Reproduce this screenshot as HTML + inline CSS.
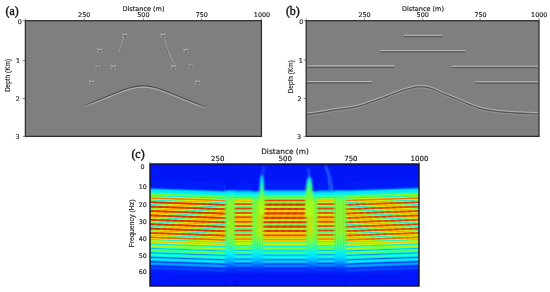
<!DOCTYPE html>
<html><head><meta charset="utf-8"><style>
html,body{margin:0;padding:0;background:#fff;width:550px;height:292px;overflow:hidden}
svg{position:absolute;left:0;top:0;display:block}
.t{font-family:"DejaVu Sans","Liberation Sans",sans-serif;fill:#262626;stroke:#262626;stroke-width:0.18px}
.l{font-family:"Liberation Sans","DejaVu Sans",sans-serif;fill:#262626;stroke:#262626;stroke-width:0.15px}
.s{font-family:"Liberation Serif",serif;fill:#161616;stroke:#161616;stroke-width:0.42px}
</style></head><body>
<svg width="550" height="292" viewBox="0 0 550 292">
<defs><linearGradient id="sg0" gradientUnits="userSpaceOnUse" x1="190.00" y1="160.60" x2="185.50" y2="289.24"><stop offset="0.0000" stop-color="#0612f8"/><stop offset="0.0333" stop-color="#0612f8"/><stop offset="0.0359" stop-color="#0613f8"/><stop offset="0.0512" stop-color="#0613f8"/><stop offset="0.0538" stop-color="#0614f8"/><stop offset="0.0692" stop-color="#0614f8"/><stop offset="0.0717" stop-color="#0615f8"/><stop offset="0.0794" stop-color="#0615f8"/><stop offset="0.0820" stop-color="#0615f9"/><stop offset="0.0871" stop-color="#0615f9"/><stop offset="0.0897" stop-color="#0516f9"/><stop offset="0.1050" stop-color="#0516f9"/><stop offset="0.1076" stop-color="#0517f9"/><stop offset="0.1230" stop-color="#0517f9"/><stop offset="0.1255" stop-color="#0518f9"/><stop offset="0.1409" stop-color="#0518f9"/><stop offset="0.1435" stop-color="#0519f9"/><stop offset="0.1589" stop-color="#0519f9"/><stop offset="0.1614" stop-color="#051af9"/><stop offset="0.1768" stop-color="#051af9"/><stop offset="0.1793" stop-color="#051bf9"/><stop offset="0.1845" stop-color="#051bf9"/><stop offset="0.1870" stop-color="#051bfa"/><stop offset="0.1947" stop-color="#051bfa"/><stop offset="0.1973" stop-color="#051cfa"/><stop offset="0.2127" stop-color="#051cfa"/><stop offset="0.2152" stop-color="#0325fb"/><stop offset="0.2178" stop-color="#022dfd"/><stop offset="0.2203" stop-color="#0136fe"/><stop offset="0.2229" stop-color="#0040ff"/><stop offset="0.2255" stop-color="#0058ff"/><stop offset="0.2280" stop-color="#0079ff"/><stop offset="0.2306" stop-color="#009bff"/><stop offset="0.2332" stop-color="#00bcff"/><stop offset="0.2357" stop-color="#00ccff"/><stop offset="0.2383" stop-color="#00dcff"/><stop offset="0.2408" stop-color="#00e6fe"/><stop offset="0.2434" stop-color="#02e7fb"/><stop offset="0.2460" stop-color="#03e9f8"/><stop offset="0.2485" stop-color="#04eaf5"/><stop offset="0.2511" stop-color="#06ebf3"/><stop offset="0.2536" stop-color="#09eeeb"/><stop offset="0.2562" stop-color="#0ef1e1"/><stop offset="0.2588" stop-color="#15f8d1"/><stop offset="0.2613" stop-color="#1fffbc"/><stop offset="0.2639" stop-color="#3bff8f"/><stop offset="0.2665" stop-color="#56ff63"/><stop offset="0.2690" stop-color="#6aff42"/><stop offset="0.2716" stop-color="#75ff38"/><stop offset="0.2741" stop-color="#70ff3b"/><stop offset="0.2767" stop-color="#57ff61"/><stop offset="0.2793" stop-color="#2effa3"/><stop offset="0.2818" stop-color="#10f3dc"/><stop offset="0.2844" stop-color="#19fbc9"/><stop offset="0.2870" stop-color="#53ff68"/><stop offset="0.2895" stop-color="#9efc1c"/><stop offset="0.2921" stop-color="#dce800"/><stop offset="0.2946" stop-color="#ffc000"/><stop offset="0.2972" stop-color="#ff8e00"/><stop offset="0.2998" stop-color="#ff7200"/><stop offset="0.3023" stop-color="#ff7000"/><stop offset="0.3049" stop-color="#ff8800"/><stop offset="0.3075" stop-color="#ffbc00"/><stop offset="0.3100" stop-color="#d7ed00"/><stop offset="0.3126" stop-color="#7cfe33"/><stop offset="0.3151" stop-color="#19fbc8"/><stop offset="0.3177" stop-color="#0ef1e1"/><stop offset="0.3203" stop-color="#66ff48"/><stop offset="0.3228" stop-color="#d9eb00"/><stop offset="0.3254" stop-color="#ff9800"/><stop offset="0.3280" stop-color="#f84f00"/><stop offset="0.3305" stop-color="#ee2700"/><stop offset="0.3331" stop-color="#eb1900"/><stop offset="0.3356" stop-color="#eb1900"/><stop offset="0.3382" stop-color="#ef2c00"/><stop offset="0.3408" stop-color="#fa5900"/><stop offset="0.3433" stop-color="#ffab00"/><stop offset="0.3459" stop-color="#ccf700"/><stop offset="0.3484" stop-color="#52ff6a"/><stop offset="0.3510" stop-color="#07ecef"/><stop offset="0.3536" stop-color="#59ff5e"/><stop offset="0.3561" stop-color="#d0f300"/><stop offset="0.3587" stop-color="#ffa500"/><stop offset="0.3613" stop-color="#f95500"/><stop offset="0.3638" stop-color="#ef2900"/><stop offset="0.3664" stop-color="#eb1900"/><stop offset="0.3689" stop-color="#eb1900"/><stop offset="0.3715" stop-color="#ed2100"/><stop offset="0.3741" stop-color="#f64800"/><stop offset="0.3766" stop-color="#ff8a00"/><stop offset="0.3792" stop-color="#e4e100"/><stop offset="0.3818" stop-color="#7afe34"/><stop offset="0.3843" stop-color="#14f6d4"/><stop offset="0.3869" stop-color="#32ff9e"/><stop offset="0.3894" stop-color="#acfc13"/><stop offset="0.3920" stop-color="#ffc800"/><stop offset="0.3946" stop-color="#fe6800"/><stop offset="0.3971" stop-color="#f23600"/><stop offset="0.3997" stop-color="#eb1900"/><stop offset="0.4048" stop-color="#eb1900"/><stop offset="0.4074" stop-color="#f23800"/><stop offset="0.4099" stop-color="#fe6c00"/><stop offset="0.4125" stop-color="#fbcc00"/><stop offset="0.4151" stop-color="#a5fc18"/><stop offset="0.4176" stop-color="#2affaa"/><stop offset="0.4202" stop-color="#16f9ce"/><stop offset="0.4227" stop-color="#82fe2f"/><stop offset="0.4253" stop-color="#e8dd00"/><stop offset="0.4279" stop-color="#ff8400"/><stop offset="0.4304" stop-color="#f54500"/><stop offset="0.4330" stop-color="#ec1f00"/><stop offset="0.4356" stop-color="#eb1900"/><stop offset="0.4381" stop-color="#eb1900"/><stop offset="0.4407" stop-color="#ef2c00"/><stop offset="0.4432" stop-color="#fa5900"/><stop offset="0.4458" stop-color="#ffab00"/><stop offset="0.4484" stop-color="#ccf700"/><stop offset="0.4509" stop-color="#52ff6a"/><stop offset="0.4535" stop-color="#07ecef"/><stop offset="0.4561" stop-color="#59ff5e"/><stop offset="0.4586" stop-color="#d0f300"/><stop offset="0.4612" stop-color="#ffa500"/><stop offset="0.4637" stop-color="#f95500"/><stop offset="0.4663" stop-color="#ef2900"/><stop offset="0.4689" stop-color="#eb1900"/><stop offset="0.4714" stop-color="#eb1900"/><stop offset="0.4740" stop-color="#ed2100"/><stop offset="0.4766" stop-color="#f64800"/><stop offset="0.4791" stop-color="#ff8a00"/><stop offset="0.4817" stop-color="#e4e100"/><stop offset="0.4842" stop-color="#7afe34"/><stop offset="0.4868" stop-color="#14f6d4"/><stop offset="0.4894" stop-color="#32ff9e"/><stop offset="0.4919" stop-color="#acfc13"/><stop offset="0.4945" stop-color="#ffc800"/><stop offset="0.4970" stop-color="#fe6800"/><stop offset="0.4996" stop-color="#f23600"/><stop offset="0.5022" stop-color="#eb1900"/><stop offset="0.5073" stop-color="#eb1900"/><stop offset="0.5099" stop-color="#f23800"/><stop offset="0.5124" stop-color="#fe6c00"/><stop offset="0.5150" stop-color="#fbcc00"/><stop offset="0.5175" stop-color="#a5fc18"/><stop offset="0.5201" stop-color="#2affaa"/><stop offset="0.5227" stop-color="#16f9ce"/><stop offset="0.5252" stop-color="#82fe2f"/><stop offset="0.5278" stop-color="#e8dd00"/><stop offset="0.5304" stop-color="#ff8400"/><stop offset="0.5329" stop-color="#f54500"/><stop offset="0.5355" stop-color="#ec1f00"/><stop offset="0.5380" stop-color="#eb1900"/><stop offset="0.5406" stop-color="#eb1900"/><stop offset="0.5432" stop-color="#ef2c00"/><stop offset="0.5457" stop-color="#fa5900"/><stop offset="0.5483" stop-color="#ffab00"/><stop offset="0.5509" stop-color="#ccf700"/><stop offset="0.5534" stop-color="#52ff6a"/><stop offset="0.5560" stop-color="#07ecf0"/><stop offset="0.5585" stop-color="#55ff65"/><stop offset="0.5611" stop-color="#cbf700"/><stop offset="0.5637" stop-color="#ffb000"/><stop offset="0.5662" stop-color="#fb5f00"/><stop offset="0.5688" stop-color="#f23500"/><stop offset="0.5714" stop-color="#ec1f00"/><stop offset="0.5739" stop-color="#ed2000"/><stop offset="0.5765" stop-color="#f23500"/><stop offset="0.5790" stop-color="#fb5e00"/><stop offset="0.5816" stop-color="#ffab00"/><stop offset="0.5842" stop-color="#d1f200"/><stop offset="0.5867" stop-color="#63ff4f"/><stop offset="0.5893" stop-color="#0ff2e0"/><stop offset="0.5918" stop-color="#20ffbb"/><stop offset="0.5944" stop-color="#8bfd29"/><stop offset="0.5970" stop-color="#e2e200"/><stop offset="0.5995" stop-color="#ffa300"/><stop offset="0.6021" stop-color="#fe6a00"/><stop offset="0.6047" stop-color="#f95500"/><stop offset="0.6072" stop-color="#f85200"/><stop offset="0.6098" stop-color="#fc6200"/><stop offset="0.6123" stop-color="#ff8b00"/><stop offset="0.6149" stop-color="#fbcc00"/><stop offset="0.6175" stop-color="#c7fa01"/><stop offset="0.6200" stop-color="#68ff45"/><stop offset="0.6226" stop-color="#18faca"/><stop offset="0.6252" stop-color="#0ff2df"/><stop offset="0.6277" stop-color="#49ff78"/><stop offset="0.6303" stop-color="#97fd20"/><stop offset="0.6328" stop-color="#d3f000"/><stop offset="0.6354" stop-color="#f0d500"/><stop offset="0.6380" stop-color="#ffc500"/><stop offset="0.6405" stop-color="#ffbf00"/><stop offset="0.6431" stop-color="#fccb00"/><stop offset="0.6457" stop-color="#e8dd00"/><stop offset="0.6482" stop-color="#caf800"/><stop offset="0.6508" stop-color="#8dfd27"/><stop offset="0.6533" stop-color="#4bff75"/><stop offset="0.6559" stop-color="#16f8cf"/><stop offset="0.6585" stop-color="#00e3ff"/><stop offset="0.6610" stop-color="#15f8d1"/><stop offset="0.6636" stop-color="#3bff8f"/><stop offset="0.6661" stop-color="#67ff47"/><stop offset="0.6687" stop-color="#8dfd27"/><stop offset="0.6713" stop-color="#a7fc16"/><stop offset="0.6738" stop-color="#b3fb0e"/><stop offset="0.6764" stop-color="#aefb11"/><stop offset="0.6790" stop-color="#9bfd1e"/><stop offset="0.6815" stop-color="#78fe35"/><stop offset="0.6841" stop-color="#4dff72"/><stop offset="0.6866" stop-color="#1cfec2"/><stop offset="0.6892" stop-color="#06ebf1"/><stop offset="0.6918" stop-color="#00bdff"/><stop offset="0.6943" stop-color="#00ceff"/><stop offset="0.6969" stop-color="#09eeeb"/><stop offset="0.6995" stop-color="#1afcc6"/><stop offset="0.7020" stop-color="#3aff90"/><stop offset="0.7046" stop-color="#55ff64"/><stop offset="0.7071" stop-color="#64ff4c"/><stop offset="0.7097" stop-color="#66ff49"/><stop offset="0.7123" stop-color="#5aff5c"/><stop offset="0.7148" stop-color="#42ff83"/><stop offset="0.7174" stop-color="#1fffbd"/><stop offset="0.7200" stop-color="#0df1e2"/><stop offset="0.7225" stop-color="#00d6ff"/><stop offset="0.7251" stop-color="#00a3ff"/><stop offset="0.7276" stop-color="#0092ff"/><stop offset="0.7302" stop-color="#00bfff"/><stop offset="0.7328" stop-color="#01e7fd"/><stop offset="0.7353" stop-color="#0ff3dd"/><stop offset="0.7379" stop-color="#1afcc6"/><stop offset="0.7405" stop-color="#26ffb0"/><stop offset="0.7430" stop-color="#2cffa7"/><stop offset="0.7456" stop-color="#25ffb2"/><stop offset="0.7481" stop-color="#19fbc8"/><stop offset="0.7507" stop-color="#0ef2e1"/><stop offset="0.7533" stop-color="#00e3ff"/><stop offset="0.7558" stop-color="#00b8ff"/><stop offset="0.7584" stop-color="#0088ff"/><stop offset="0.7609" stop-color="#005bff"/><stop offset="0.7635" stop-color="#0084ff"/><stop offset="0.7661" stop-color="#00aaff"/><stop offset="0.7686" stop-color="#00cbff"/><stop offset="0.7712" stop-color="#00e4ff"/><stop offset="0.7738" stop-color="#06ebf2"/><stop offset="0.7763" stop-color="#09edec"/><stop offset="0.7789" stop-color="#07ecf0"/><stop offset="0.7814" stop-color="#01e7fc"/><stop offset="0.7840" stop-color="#00d2ff"/><stop offset="0.7866" stop-color="#00b3ff"/><stop offset="0.7891" stop-color="#008eff"/><stop offset="0.7917" stop-color="#0066ff"/><stop offset="0.7943" stop-color="#003dff"/><stop offset="0.7968" stop-color="#0047ff"/><stop offset="0.7994" stop-color="#0066ff"/><stop offset="0.8019" stop-color="#0080ff"/><stop offset="0.8045" stop-color="#0094ff"/><stop offset="0.8071" stop-color="#00a1ff"/><stop offset="0.8096" stop-color="#00a5ff"/><stop offset="0.8122" stop-color="#00a1ff"/><stop offset="0.8148" stop-color="#0096ff"/><stop offset="0.8173" stop-color="#0084ff"/><stop offset="0.8199" stop-color="#006dff"/><stop offset="0.8224" stop-color="#0053ff"/><stop offset="0.8250" stop-color="#0039ff"/><stop offset="0.8276" stop-color="#022bfc"/><stop offset="0.8301" stop-color="#0326fb"/><stop offset="0.8327" stop-color="#0230fd"/><stop offset="0.8352" stop-color="#0039fe"/><stop offset="0.8378" stop-color="#0041ff"/><stop offset="0.8404" stop-color="#0048ff"/><stop offset="0.8429" stop-color="#0049ff"/><stop offset="0.8455" stop-color="#0046ff"/><stop offset="0.8481" stop-color="#003fff"/><stop offset="0.8506" stop-color="#0138fe"/><stop offset="0.8532" stop-color="#0132fd"/><stop offset="0.8557" stop-color="#022bfc"/><stop offset="0.8583" stop-color="#0324fb"/><stop offset="0.8609" stop-color="#041efa"/><stop offset="0.8634" stop-color="#0519f9"/><stop offset="0.8660" stop-color="#041dfa"/><stop offset="0.8686" stop-color="#041ffa"/><stop offset="0.8711" stop-color="#0420fa"/><stop offset="0.8737" stop-color="#041ffa"/><stop offset="0.8762" stop-color="#041dfa"/><stop offset="0.8788" stop-color="#051bf9"/><stop offset="0.8814" stop-color="#0519f9"/><stop offset="0.8839" stop-color="#0518f9"/><stop offset="0.8891" stop-color="#0518f9"/><stop offset="0.8916" stop-color="#0517f9"/><stop offset="0.8967" stop-color="#0517f9"/><stop offset="0.8993" stop-color="#0516f9"/><stop offset="0.9019" stop-color="#0516f9"/><stop offset="0.9044" stop-color="#0615f9"/><stop offset="0.9070" stop-color="#0615f9"/><stop offset="0.9095" stop-color="#0615f8"/><stop offset="0.9121" stop-color="#0614f8"/><stop offset="0.9147" stop-color="#0614f8"/><stop offset="0.9172" stop-color="#0613f8"/><stop offset="0.9224" stop-color="#0613f8"/><stop offset="0.9249" stop-color="#0612f8"/><stop offset="0.9992" stop-color="#0612f8"/></linearGradient><linearGradient id="sg1" gradientUnits="userSpaceOnUse" x1="243.75" y1="162.00" x2="243.75" y2="288.00"><stop offset="0.0000" stop-color="#0612f8"/><stop offset="0.0236" stop-color="#0612f8"/><stop offset="0.0262" stop-color="#0613f8"/><stop offset="0.0419" stop-color="#0613f8"/><stop offset="0.0445" stop-color="#0614f8"/><stop offset="0.0629" stop-color="#0614f8"/><stop offset="0.0655" stop-color="#0615f8"/><stop offset="0.0707" stop-color="#0615f8"/><stop offset="0.0733" stop-color="#0615f9"/><stop offset="0.0812" stop-color="#0615f9"/><stop offset="0.0838" stop-color="#0516f9"/><stop offset="0.0995" stop-color="#0516f9"/><stop offset="0.1021" stop-color="#0517f9"/><stop offset="0.1179" stop-color="#0517f9"/><stop offset="0.1205" stop-color="#0518f9"/><stop offset="0.1362" stop-color="#0518f9"/><stop offset="0.1388" stop-color="#0519f9"/><stop offset="0.1571" stop-color="#0519f9"/><stop offset="0.1598" stop-color="#051af9"/><stop offset="0.1755" stop-color="#051af9"/><stop offset="0.1781" stop-color="#051bf9"/><stop offset="0.1833" stop-color="#051bf9"/><stop offset="0.1860" stop-color="#051bfa"/><stop offset="0.1938" stop-color="#051bfa"/><stop offset="0.1964" stop-color="#051cfa"/><stop offset="0.2121" stop-color="#051cfa"/><stop offset="0.2148" stop-color="#041ffa"/><stop offset="0.2174" stop-color="#022cfc"/><stop offset="0.2200" stop-color="#0138fe"/><stop offset="0.2226" stop-color="#004eff"/><stop offset="0.2252" stop-color="#0067ff"/><stop offset="0.2279" stop-color="#0080ff"/><stop offset="0.2305" stop-color="#0098ff"/><stop offset="0.2331" stop-color="#00a5ff"/><stop offset="0.2357" stop-color="#00b2ff"/><stop offset="0.2383" stop-color="#00bfff"/><stop offset="0.2410" stop-color="#00ccff"/><stop offset="0.2436" stop-color="#00daff"/><stop offset="0.2462" stop-color="#00e6ff"/><stop offset="0.2488" stop-color="#03e8f9"/><stop offset="0.2514" stop-color="#05ebf3"/><stop offset="0.2540" stop-color="#08eded"/><stop offset="0.2567" stop-color="#0befe8"/><stop offset="0.2593" stop-color="#0df1e2"/><stop offset="0.2619" stop-color="#10f3dc"/><stop offset="0.2645" stop-color="#18facb"/><stop offset="0.2671" stop-color="#21ffb9"/><stop offset="0.2698" stop-color="#2effa4"/><stop offset="0.2724" stop-color="#32ff9e"/><stop offset="0.2750" stop-color="#29ffad"/><stop offset="0.2776" stop-color="#19fbc9"/><stop offset="0.2802" stop-color="#0aeeea"/><stop offset="0.2829" stop-color="#06ebf2"/><stop offset="0.2855" stop-color="#1bfcc5"/><stop offset="0.2881" stop-color="#54ff66"/><stop offset="0.2907" stop-color="#97fd21"/><stop offset="0.2933" stop-color="#d2f100"/><stop offset="0.2960" stop-color="#f3d300"/><stop offset="0.2986" stop-color="#ffb800"/><stop offset="0.3012" stop-color="#ffa800"/><stop offset="0.3038" stop-color="#ffaf00"/><stop offset="0.3064" stop-color="#facd00"/><stop offset="0.3090" stop-color="#d6ed00"/><stop offset="0.3117" stop-color="#8cfd28"/><stop offset="0.3143" stop-color="#33ff9c"/><stop offset="0.3169" stop-color="#0befe8"/><stop offset="0.3195" stop-color="#53ff68"/><stop offset="0.3221" stop-color="#befb07"/><stop offset="0.3248" stop-color="#fec900"/><stop offset="0.3274" stop-color="#ff7a00"/><stop offset="0.3300" stop-color="#f74e00"/><stop offset="0.3326" stop-color="#f23600"/><stop offset="0.3352" stop-color="#f13300"/><stop offset="0.3379" stop-color="#f54300"/><stop offset="0.3405" stop-color="#fd6300"/><stop offset="0.3431" stop-color="#ffa400"/><stop offset="0.3457" stop-color="#dfe500"/><stop offset="0.3483" stop-color="#89fd2a"/><stop offset="0.3510" stop-color="#26ffb1"/><stop offset="0.3536" stop-color="#58ff60"/><stop offset="0.3562" stop-color="#befb06"/><stop offset="0.3588" stop-color="#fccb00"/><stop offset="0.3614" stop-color="#ff7e00"/><stop offset="0.3640" stop-color="#f85100"/><stop offset="0.3667" stop-color="#f23900"/><stop offset="0.3693" stop-color="#f13100"/><stop offset="0.3719" stop-color="#f33c00"/><stop offset="0.3745" stop-color="#fa5700"/><stop offset="0.3771" stop-color="#ff8b00"/><stop offset="0.3798" stop-color="#f2d400"/><stop offset="0.3824" stop-color="#acfc13"/><stop offset="0.3850" stop-color="#46ff7d"/><stop offset="0.3876" stop-color="#38ff95"/><stop offset="0.3902" stop-color="#9cfc1d"/><stop offset="0.3929" stop-color="#eadb00"/><stop offset="0.3955" stop-color="#ff9600"/><stop offset="0.3981" stop-color="#fb5c00"/><stop offset="0.4007" stop-color="#f43f00"/><stop offset="0.4033" stop-color="#f13200"/><stop offset="0.4060" stop-color="#f23600"/><stop offset="0.4086" stop-color="#f74c00"/><stop offset="0.4112" stop-color="#ff7300"/><stop offset="0.4138" stop-color="#ffc000"/><stop offset="0.4164" stop-color="#cbf700"/><stop offset="0.4190" stop-color="#66ff48"/><stop offset="0.4217" stop-color="#1bfdc4"/><stop offset="0.4243" stop-color="#79fe35"/><stop offset="0.4269" stop-color="#d6ed00"/><stop offset="0.4295" stop-color="#ffb100"/><stop offset="0.4321" stop-color="#fe6a00"/><stop offset="0.4348" stop-color="#f64700"/><stop offset="0.4374" stop-color="#f13400"/><stop offset="0.4400" stop-color="#f13300"/><stop offset="0.4426" stop-color="#f54300"/><stop offset="0.4452" stop-color="#fd6300"/><stop offset="0.4479" stop-color="#ffa400"/><stop offset="0.4505" stop-color="#dfe500"/><stop offset="0.4531" stop-color="#89fd2a"/><stop offset="0.4557" stop-color="#26ffb1"/><stop offset="0.4583" stop-color="#58ff60"/><stop offset="0.4610" stop-color="#befb06"/><stop offset="0.4636" stop-color="#fccb00"/><stop offset="0.4662" stop-color="#ff7e00"/><stop offset="0.4688" stop-color="#f85100"/><stop offset="0.4714" stop-color="#f23900"/><stop offset="0.4740" stop-color="#f13100"/><stop offset="0.4767" stop-color="#f33c00"/><stop offset="0.4793" stop-color="#fa5700"/><stop offset="0.4819" stop-color="#ff8b00"/><stop offset="0.4845" stop-color="#f2d400"/><stop offset="0.4871" stop-color="#acfc13"/><stop offset="0.4898" stop-color="#46ff7d"/><stop offset="0.4924" stop-color="#38ff95"/><stop offset="0.4950" stop-color="#9cfc1d"/><stop offset="0.4976" stop-color="#eadb00"/><stop offset="0.5002" stop-color="#ff9600"/><stop offset="0.5029" stop-color="#fb5c00"/><stop offset="0.5055" stop-color="#f43f00"/><stop offset="0.5081" stop-color="#f13200"/><stop offset="0.5107" stop-color="#f23600"/><stop offset="0.5133" stop-color="#f74c00"/><stop offset="0.5160" stop-color="#ff7300"/><stop offset="0.5186" stop-color="#ffc000"/><stop offset="0.5212" stop-color="#cbf700"/><stop offset="0.5238" stop-color="#66ff48"/><stop offset="0.5264" stop-color="#1bfdc4"/><stop offset="0.5290" stop-color="#79fe35"/><stop offset="0.5317" stop-color="#d6ed00"/><stop offset="0.5343" stop-color="#ffb100"/><stop offset="0.5369" stop-color="#fe6a00"/><stop offset="0.5395" stop-color="#f64700"/><stop offset="0.5421" stop-color="#f13400"/><stop offset="0.5448" stop-color="#f13300"/><stop offset="0.5474" stop-color="#f54300"/><stop offset="0.5500" stop-color="#fd6300"/><stop offset="0.5526" stop-color="#ffa400"/><stop offset="0.5552" stop-color="#dfe500"/><stop offset="0.5579" stop-color="#86fe2c"/><stop offset="0.5605" stop-color="#21ffb9"/><stop offset="0.5631" stop-color="#50ff6c"/><stop offset="0.5657" stop-color="#b3fb0e"/><stop offset="0.5683" stop-color="#f3d300"/><stop offset="0.5710" stop-color="#ff8f00"/><stop offset="0.5736" stop-color="#fb5e00"/><stop offset="0.5762" stop-color="#f64700"/><stop offset="0.5788" stop-color="#f54200"/><stop offset="0.5814" stop-color="#f74e00"/><stop offset="0.5840" stop-color="#fe6a00"/><stop offset="0.5867" stop-color="#ffaa00"/><stop offset="0.5893" stop-color="#dee600"/><stop offset="0.5919" stop-color="#88fe2a"/><stop offset="0.5945" stop-color="#25ffb3"/><stop offset="0.5971" stop-color="#1afcc6"/><stop offset="0.5998" stop-color="#72ff39"/><stop offset="0.6024" stop-color="#cff400"/><stop offset="0.6050" stop-color="#ffc800"/><stop offset="0.6076" stop-color="#ff9000"/><stop offset="0.6102" stop-color="#ff7000"/><stop offset="0.6129" stop-color="#fe6a00"/><stop offset="0.6155" stop-color="#ff7800"/><stop offset="0.6181" stop-color="#ff9e00"/><stop offset="0.6207" stop-color="#f7d000"/><stop offset="0.6233" stop-color="#ccf600"/><stop offset="0.6260" stop-color="#80fe30"/><stop offset="0.6286" stop-color="#35ff98"/><stop offset="0.6312" stop-color="#11f4db"/><stop offset="0.6338" stop-color="#40ff87"/><stop offset="0.6364" stop-color="#7dfe32"/><stop offset="0.6390" stop-color="#b3fb0e"/><stop offset="0.6417" stop-color="#d3f000"/><stop offset="0.6443" stop-color="#e2e300"/><stop offset="0.6469" stop-color="#e6df00"/><stop offset="0.6495" stop-color="#e0e400"/><stop offset="0.6521" stop-color="#d2f100"/><stop offset="0.6548" stop-color="#b4fb0e"/><stop offset="0.6574" stop-color="#86fe2c"/><stop offset="0.6600" stop-color="#54ff66"/><stop offset="0.6626" stop-color="#23ffb6"/><stop offset="0.6652" stop-color="#0df1e2"/><stop offset="0.6679" stop-color="#15f7d2"/><stop offset="0.6705" stop-color="#2cffa8"/><stop offset="0.6731" stop-color="#4dff71"/><stop offset="0.6757" stop-color="#68ff46"/><stop offset="0.6783" stop-color="#7cfe33"/><stop offset="0.6810" stop-color="#86fe2c"/><stop offset="0.6836" stop-color="#85fe2d"/><stop offset="0.6862" stop-color="#78fe35"/><stop offset="0.6888" stop-color="#61ff51"/><stop offset="0.6914" stop-color="#42ff83"/><stop offset="0.6940" stop-color="#1dfec0"/><stop offset="0.6967" stop-color="#0df1e3"/><stop offset="0.6993" stop-color="#00daff"/><stop offset="0.7019" stop-color="#00d0ff"/><stop offset="0.7045" stop-color="#06ebf3"/><stop offset="0.7071" stop-color="#13f6d6"/><stop offset="0.7098" stop-color="#1effbe"/><stop offset="0.7124" stop-color="#34ff9a"/><stop offset="0.7150" stop-color="#41ff85"/><stop offset="0.7176" stop-color="#44ff80"/><stop offset="0.7202" stop-color="#3eff8b"/><stop offset="0.7229" stop-color="#2dffa6"/><stop offset="0.7255" stop-color="#1afcc7"/><stop offset="0.7281" stop-color="#0df1e2"/><stop offset="0.7307" stop-color="#00e2ff"/><stop offset="0.7333" stop-color="#00baff"/><stop offset="0.7360" stop-color="#0097ff"/><stop offset="0.7386" stop-color="#00baff"/><stop offset="0.7412" stop-color="#00daff"/><stop offset="0.7438" stop-color="#06ebf1"/><stop offset="0.7464" stop-color="#0ff3de"/><stop offset="0.7490" stop-color="#15f8d1"/><stop offset="0.7517" stop-color="#18facc"/><stop offset="0.7543" stop-color="#16f9cf"/><stop offset="0.7569" stop-color="#11f4da"/><stop offset="0.7595" stop-color="#09edec"/><stop offset="0.7621" stop-color="#00e0ff"/><stop offset="0.7648" stop-color="#00beff"/><stop offset="0.7674" stop-color="#0098ff"/><stop offset="0.7700" stop-color="#0072ff"/><stop offset="0.7726" stop-color="#0080ff"/><stop offset="0.7752" stop-color="#009dff"/><stop offset="0.7779" stop-color="#00b8ff"/><stop offset="0.7805" stop-color="#00cdff"/><stop offset="0.7831" stop-color="#00dbff"/><stop offset="0.7857" stop-color="#00e1ff"/><stop offset="0.7883" stop-color="#00dfff"/><stop offset="0.7910" stop-color="#00d6ff"/><stop offset="0.7936" stop-color="#00c4ff"/><stop offset="0.7962" stop-color="#00acff"/><stop offset="0.7988" stop-color="#008eff"/><stop offset="0.8014" stop-color="#006eff"/><stop offset="0.8040" stop-color="#004cff"/><stop offset="0.8067" stop-color="#0043ff"/><stop offset="0.8093" stop-color="#005bff"/><stop offset="0.8119" stop-color="#0070ff"/><stop offset="0.8145" stop-color="#0080ff"/><stop offset="0.8171" stop-color="#008aff"/><stop offset="0.8198" stop-color="#008eff"/><stop offset="0.8224" stop-color="#008bff"/><stop offset="0.8250" stop-color="#0083ff"/><stop offset="0.8276" stop-color="#0076ff"/><stop offset="0.8302" stop-color="#0064ff"/><stop offset="0.8329" stop-color="#0050ff"/><stop offset="0.8355" stop-color="#003bff"/><stop offset="0.8381" stop-color="#022ffd"/><stop offset="0.8407" stop-color="#0326fb"/><stop offset="0.8433" stop-color="#022dfd"/><stop offset="0.8460" stop-color="#0133fe"/><stop offset="0.8486" stop-color="#0138fe"/><stop offset="0.8512" stop-color="#003aff"/><stop offset="0.8538" stop-color="#003bff"/><stop offset="0.8564" stop-color="#0039ff"/><stop offset="0.8590" stop-color="#0136fe"/><stop offset="0.8617" stop-color="#0133fd"/><stop offset="0.8643" stop-color="#022efd"/><stop offset="0.8669" stop-color="#0329fc"/><stop offset="0.8695" stop-color="#0324fb"/><stop offset="0.8721" stop-color="#041ffa"/><stop offset="0.8748" stop-color="#051bfa"/><stop offset="0.8774" stop-color="#051cfa"/><stop offset="0.8800" stop-color="#041dfa"/><stop offset="0.8826" stop-color="#041dfa"/><stop offset="0.8852" stop-color="#051cfa"/><stop offset="0.8879" stop-color="#051af9"/><stop offset="0.8905" stop-color="#0519f9"/><stop offset="0.8931" stop-color="#0518f9"/><stop offset="0.8983" stop-color="#0518f9"/><stop offset="0.9010" stop-color="#0517f9"/><stop offset="0.9036" stop-color="#0517f9"/><stop offset="0.9062" stop-color="#0516f9"/><stop offset="0.9114" stop-color="#0516f9"/><stop offset="0.9140" stop-color="#0615f9"/><stop offset="0.9167" stop-color="#0615f8"/><stop offset="0.9193" stop-color="#0615f8"/><stop offset="0.9219" stop-color="#0614f8"/><stop offset="0.9245" stop-color="#0614f8"/><stop offset="0.9271" stop-color="#0613f8"/><stop offset="0.9324" stop-color="#0613f8"/><stop offset="0.9350" stop-color="#0612f8"/><stop offset="0.9979" stop-color="#0612f8"/></linearGradient><linearGradient id="sg2" gradientUnits="userSpaceOnUse" x1="284.75" y1="162.00" x2="284.75" y2="288.00"><stop offset="0.0000" stop-color="#0612f8"/><stop offset="0.0236" stop-color="#0612f8"/><stop offset="0.0262" stop-color="#0613f8"/><stop offset="0.0419" stop-color="#0613f8"/><stop offset="0.0445" stop-color="#0614f8"/><stop offset="0.0602" stop-color="#0614f8"/><stop offset="0.0629" stop-color="#0615f8"/><stop offset="0.0707" stop-color="#0615f8"/><stop offset="0.0733" stop-color="#0615f9"/><stop offset="0.0786" stop-color="#0615f9"/><stop offset="0.0812" stop-color="#0516f9"/><stop offset="0.0969" stop-color="#0516f9"/><stop offset="0.0995" stop-color="#0517f9"/><stop offset="0.1152" stop-color="#0517f9"/><stop offset="0.1179" stop-color="#0518f9"/><stop offset="0.1362" stop-color="#0518f9"/><stop offset="0.1388" stop-color="#0519f9"/><stop offset="0.1545" stop-color="#0519f9"/><stop offset="0.1571" stop-color="#051af9"/><stop offset="0.1729" stop-color="#051af9"/><stop offset="0.1755" stop-color="#051bf9"/><stop offset="0.1807" stop-color="#051bf9"/><stop offset="0.1833" stop-color="#051bfa"/><stop offset="0.1912" stop-color="#051bfa"/><stop offset="0.1938" stop-color="#051cfa"/><stop offset="0.2095" stop-color="#051cfa"/><stop offset="0.2121" stop-color="#0423fb"/><stop offset="0.2148" stop-color="#022dfd"/><stop offset="0.2174" stop-color="#0137fe"/><stop offset="0.2200" stop-color="#0047ff"/><stop offset="0.2226" stop-color="#005bff"/><stop offset="0.2252" stop-color="#0074ff"/><stop offset="0.2279" stop-color="#008cff"/><stop offset="0.2305" stop-color="#00a5ff"/><stop offset="0.2331" stop-color="#00bfff"/><stop offset="0.2357" stop-color="#00cdff"/><stop offset="0.2383" stop-color="#00d3ff"/><stop offset="0.2410" stop-color="#00daff"/><stop offset="0.2436" stop-color="#00e0ff"/><stop offset="0.2462" stop-color="#00e6ff"/><stop offset="0.2488" stop-color="#03e8f9"/><stop offset="0.2514" stop-color="#05ebf3"/><stop offset="0.2540" stop-color="#08eded"/><stop offset="0.2567" stop-color="#0befe8"/><stop offset="0.2593" stop-color="#0ef2e1"/><stop offset="0.2619" stop-color="#12f5d8"/><stop offset="0.2645" stop-color="#1bfcc5"/><stop offset="0.2671" stop-color="#2fffa2"/><stop offset="0.2698" stop-color="#47ff7b"/><stop offset="0.2724" stop-color="#59ff5e"/><stop offset="0.2750" stop-color="#62ff50"/><stop offset="0.2776" stop-color="#5eff55"/><stop offset="0.2802" stop-color="#4bff74"/><stop offset="0.2829" stop-color="#27ffaf"/><stop offset="0.2855" stop-color="#0ef2e1"/><stop offset="0.2881" stop-color="#30ffa1"/><stop offset="0.2907" stop-color="#7ffe31"/><stop offset="0.2933" stop-color="#d0f200"/><stop offset="0.2960" stop-color="#ffc200"/><stop offset="0.2986" stop-color="#ff7d00"/><stop offset="0.3012" stop-color="#f95600"/><stop offset="0.3038" stop-color="#f44100"/><stop offset="0.3064" stop-color="#f33d00"/><stop offset="0.3090" stop-color="#f64a00"/><stop offset="0.3117" stop-color="#fe6c00"/><stop offset="0.3143" stop-color="#ffb500"/><stop offset="0.3169" stop-color="#cef400"/><stop offset="0.3195" stop-color="#68ff47"/><stop offset="0.3221" stop-color="#77fe36"/><stop offset="0.3248" stop-color="#d8ec00"/><stop offset="0.3274" stop-color="#ffa700"/><stop offset="0.3300" stop-color="#fb5d00"/><stop offset="0.3326" stop-color="#f13200"/><stop offset="0.3352" stop-color="#eb1900"/><stop offset="0.3405" stop-color="#eb1900"/><stop offset="0.3431" stop-color="#f02c00"/><stop offset="0.3457" stop-color="#f95400"/><stop offset="0.3483" stop-color="#ff9700"/><stop offset="0.3510" stop-color="#e3e100"/><stop offset="0.3536" stop-color="#8bfd29"/><stop offset="0.3562" stop-color="#56ff63"/><stop offset="0.3588" stop-color="#bffa06"/><stop offset="0.3614" stop-color="#ffc600"/><stop offset="0.3640" stop-color="#ff6e00"/><stop offset="0.3667" stop-color="#f43f00"/><stop offset="0.3693" stop-color="#ec1e00"/><stop offset="0.3719" stop-color="#eb1900"/><stop offset="0.3745" stop-color="#eb1900"/><stop offset="0.3771" stop-color="#ed2200"/><stop offset="0.3798" stop-color="#f54500"/><stop offset="0.3824" stop-color="#ff7b00"/><stop offset="0.3850" stop-color="#f7cf00"/><stop offset="0.3876" stop-color="#affb11"/><stop offset="0.3902" stop-color="#47ff7c"/><stop offset="0.3929" stop-color="#9bfc1e"/><stop offset="0.3955" stop-color="#ecd900"/><stop offset="0.3981" stop-color="#ff8a00"/><stop offset="0.4007" stop-color="#f74d00"/><stop offset="0.4033" stop-color="#ee2800"/><stop offset="0.4060" stop-color="#eb1900"/><stop offset="0.4086" stop-color="#eb1900"/><stop offset="0.4112" stop-color="#eb1a00"/><stop offset="0.4138" stop-color="#f23800"/><stop offset="0.4164" stop-color="#fd6500"/><stop offset="0.4190" stop-color="#ffb500"/><stop offset="0.4217" stop-color="#cef400"/><stop offset="0.4243" stop-color="#68ff47"/><stop offset="0.4269" stop-color="#77fe36"/><stop offset="0.4295" stop-color="#d8ec00"/><stop offset="0.4321" stop-color="#ffa700"/><stop offset="0.4348" stop-color="#fb5d00"/><stop offset="0.4374" stop-color="#f13200"/><stop offset="0.4400" stop-color="#eb1900"/><stop offset="0.4452" stop-color="#eb1900"/><stop offset="0.4479" stop-color="#f02c00"/><stop offset="0.4505" stop-color="#f95400"/><stop offset="0.4531" stop-color="#ff9700"/><stop offset="0.4557" stop-color="#e3e100"/><stop offset="0.4583" stop-color="#8bfd29"/><stop offset="0.4610" stop-color="#56ff63"/><stop offset="0.4636" stop-color="#bffa06"/><stop offset="0.4662" stop-color="#ffc600"/><stop offset="0.4688" stop-color="#ff6e00"/><stop offset="0.4714" stop-color="#f43f00"/><stop offset="0.4740" stop-color="#ec1e00"/><stop offset="0.4767" stop-color="#eb1900"/><stop offset="0.4793" stop-color="#eb1900"/><stop offset="0.4819" stop-color="#ed2200"/><stop offset="0.4845" stop-color="#f54500"/><stop offset="0.4871" stop-color="#ff7b00"/><stop offset="0.4898" stop-color="#f7cf00"/><stop offset="0.4924" stop-color="#affb11"/><stop offset="0.4950" stop-color="#47ff7c"/><stop offset="0.4976" stop-color="#9bfc1e"/><stop offset="0.5002" stop-color="#ecd900"/><stop offset="0.5029" stop-color="#ff8a00"/><stop offset="0.5055" stop-color="#f74d00"/><stop offset="0.5081" stop-color="#ee2800"/><stop offset="0.5107" stop-color="#eb1900"/><stop offset="0.5133" stop-color="#eb1900"/><stop offset="0.5160" stop-color="#eb1a00"/><stop offset="0.5186" stop-color="#f23800"/><stop offset="0.5212" stop-color="#fd6500"/><stop offset="0.5238" stop-color="#ffb500"/><stop offset="0.5264" stop-color="#cef400"/><stop offset="0.5290" stop-color="#68ff47"/><stop offset="0.5317" stop-color="#77fe36"/><stop offset="0.5343" stop-color="#d8ec00"/><stop offset="0.5369" stop-color="#ffa700"/><stop offset="0.5395" stop-color="#fb5d00"/><stop offset="0.5421" stop-color="#f13200"/><stop offset="0.5448" stop-color="#eb1900"/><stop offset="0.5500" stop-color="#eb1900"/><stop offset="0.5526" stop-color="#f02c00"/><stop offset="0.5552" stop-color="#f95400"/><stop offset="0.5579" stop-color="#ff9d00"/><stop offset="0.5605" stop-color="#dbe900"/><stop offset="0.5631" stop-color="#76ff37"/><stop offset="0.5657" stop-color="#3cff8d"/><stop offset="0.5683" stop-color="#9bfd1e"/><stop offset="0.5710" stop-color="#e6df00"/><stop offset="0.5736" stop-color="#ff9f00"/><stop offset="0.5762" stop-color="#fc6300"/><stop offset="0.5788" stop-color="#f54500"/><stop offset="0.5814" stop-color="#f23800"/><stop offset="0.5840" stop-color="#f33d00"/><stop offset="0.5867" stop-color="#f85200"/><stop offset="0.5893" stop-color="#ff7d00"/><stop offset="0.5919" stop-color="#fec900"/><stop offset="0.5945" stop-color="#c1fa05"/><stop offset="0.5971" stop-color="#59ff5e"/><stop offset="0.5998" stop-color="#0ef2e0"/><stop offset="0.6024" stop-color="#40ff87"/><stop offset="0.6050" stop-color="#9efc1c"/><stop offset="0.6076" stop-color="#e2e200"/><stop offset="0.6102" stop-color="#ffb600"/><stop offset="0.6129" stop-color="#ff8b00"/><stop offset="0.6155" stop-color="#ff7800"/><stop offset="0.6181" stop-color="#ff7d00"/><stop offset="0.6207" stop-color="#ff9700"/><stop offset="0.6233" stop-color="#ffc400"/><stop offset="0.6260" stop-color="#dce800"/><stop offset="0.6286" stop-color="#a2fc19"/><stop offset="0.6312" stop-color="#58ff60"/><stop offset="0.6338" stop-color="#1afbc7"/><stop offset="0.6364" stop-color="#1dfec0"/><stop offset="0.6390" stop-color="#58ff60"/><stop offset="0.6417" stop-color="#8ffd26"/><stop offset="0.6443" stop-color="#bcfb08"/><stop offset="0.6469" stop-color="#d3f000"/><stop offset="0.6495" stop-color="#dce800"/><stop offset="0.6521" stop-color="#dbe900"/><stop offset="0.6548" stop-color="#d1f200"/><stop offset="0.6574" stop-color="#b9fb0a"/><stop offset="0.6600" stop-color="#92fd24"/><stop offset="0.6626" stop-color="#64ff4d"/><stop offset="0.6652" stop-color="#36ff97"/><stop offset="0.6679" stop-color="#15f7d2"/><stop offset="0.6705" stop-color="#0aefe9"/><stop offset="0.6731" stop-color="#19fbc9"/><stop offset="0.6757" stop-color="#35ff99"/><stop offset="0.6783" stop-color="#53ff68"/><stop offset="0.6810" stop-color="#6aff43"/><stop offset="0.6836" stop-color="#79fe35"/><stop offset="0.6862" stop-color="#7efe31"/><stop offset="0.6888" stop-color="#77ff36"/><stop offset="0.6914" stop-color="#65ff4a"/><stop offset="0.6940" stop-color="#4bff75"/><stop offset="0.6967" stop-color="#28ffad"/><stop offset="0.6993" stop-color="#13f6d7"/><stop offset="0.7019" stop-color="#02e8fb"/><stop offset="0.7045" stop-color="#00c0ff"/><stop offset="0.7071" stop-color="#00ddff"/><stop offset="0.7098" stop-color="#0aeee9"/><stop offset="0.7124" stop-color="#16f9cf"/><stop offset="0.7150" stop-color="#23ffb5"/><stop offset="0.7176" stop-color="#35ff98"/><stop offset="0.7202" stop-color="#3eff8b"/><stop offset="0.7229" stop-color="#3cff8d"/><stop offset="0.7255" stop-color="#30ffa0"/><stop offset="0.7281" stop-color="#1dfec0"/><stop offset="0.7307" stop-color="#12f5d8"/><stop offset="0.7333" stop-color="#04e9f6"/><stop offset="0.7360" stop-color="#00c9ff"/><stop offset="0.7386" stop-color="#00a0ff"/><stop offset="0.7412" stop-color="#00a3ff"/><stop offset="0.7438" stop-color="#00c4ff"/><stop offset="0.7464" stop-color="#00e2ff"/><stop offset="0.7490" stop-color="#09edec"/><stop offset="0.7517" stop-color="#10f4dc"/><stop offset="0.7543" stop-color="#14f7d3"/><stop offset="0.7569" stop-color="#15f7d2"/><stop offset="0.7595" stop-color="#12f5d8"/><stop offset="0.7621" stop-color="#0befe7"/><stop offset="0.7648" stop-color="#01e7fd"/><stop offset="0.7674" stop-color="#00c9ff"/><stop offset="0.7700" stop-color="#00a6ff"/><stop offset="0.7726" stop-color="#0080ff"/><stop offset="0.7752" stop-color="#006bff"/><stop offset="0.7779" stop-color="#0089ff"/><stop offset="0.7805" stop-color="#00a4ff"/><stop offset="0.7831" stop-color="#00bcff"/><stop offset="0.7857" stop-color="#00cdff"/><stop offset="0.7883" stop-color="#00d7ff"/><stop offset="0.7910" stop-color="#00d9ff"/><stop offset="0.7936" stop-color="#00d4ff"/><stop offset="0.7962" stop-color="#00c6ff"/><stop offset="0.7988" stop-color="#00b0ff"/><stop offset="0.8014" stop-color="#0095ff"/><stop offset="0.8040" stop-color="#0077ff"/><stop offset="0.8067" stop-color="#0056ff"/><stop offset="0.8093" stop-color="#0138fe"/><stop offset="0.8119" stop-color="#0048ff"/><stop offset="0.8145" stop-color="#005eff"/><stop offset="0.8171" stop-color="#0070ff"/><stop offset="0.8198" stop-color="#007cff"/><stop offset="0.8224" stop-color="#0083ff"/><stop offset="0.8250" stop-color="#0083ff"/><stop offset="0.8276" stop-color="#007eff"/><stop offset="0.8302" stop-color="#0074ff"/><stop offset="0.8329" stop-color="#0065ff"/><stop offset="0.8355" stop-color="#0052ff"/><stop offset="0.8381" stop-color="#003eff"/><stop offset="0.8407" stop-color="#0132fd"/><stop offset="0.8433" stop-color="#0327fc"/><stop offset="0.8460" stop-color="#0327fc"/><stop offset="0.8486" stop-color="#022dfd"/><stop offset="0.8512" stop-color="#0132fd"/><stop offset="0.8538" stop-color="#0135fe"/><stop offset="0.8564" stop-color="#0136fe"/><stop offset="0.8590" stop-color="#0136fe"/><stop offset="0.8617" stop-color="#0134fe"/><stop offset="0.8643" stop-color="#0231fd"/><stop offset="0.8669" stop-color="#022dfc"/><stop offset="0.8695" stop-color="#0328fc"/><stop offset="0.8721" stop-color="#0324fb"/><stop offset="0.8748" stop-color="#0420fa"/><stop offset="0.8774" stop-color="#051cfa"/><stop offset="0.8800" stop-color="#051af9"/><stop offset="0.8826" stop-color="#051bfa"/><stop offset="0.8852" stop-color="#051bfa"/><stop offset="0.8879" stop-color="#051af9"/><stop offset="0.8905" stop-color="#0519f9"/><stop offset="0.8931" stop-color="#0518f9"/><stop offset="0.8983" stop-color="#0518f9"/><stop offset="0.9010" stop-color="#0517f9"/><stop offset="0.9036" stop-color="#0517f9"/><stop offset="0.9062" stop-color="#0516f9"/><stop offset="0.9114" stop-color="#0516f9"/><stop offset="0.9140" stop-color="#0615f9"/><stop offset="0.9167" stop-color="#0615f8"/><stop offset="0.9193" stop-color="#0615f8"/><stop offset="0.9219" stop-color="#0614f8"/><stop offset="0.9245" stop-color="#0614f8"/><stop offset="0.9271" stop-color="#0613f8"/><stop offset="0.9324" stop-color="#0613f8"/><stop offset="0.9350" stop-color="#0612f8"/><stop offset="0.9979" stop-color="#0612f8"/></linearGradient><linearGradient id="sg3" gradientUnits="userSpaceOnUse" x1="326.00" y1="162.00" x2="326.00" y2="288.00"><stop offset="0.0000" stop-color="#0612f8"/><stop offset="0.0236" stop-color="#0612f8"/><stop offset="0.0262" stop-color="#0613f8"/><stop offset="0.0419" stop-color="#0613f8"/><stop offset="0.0445" stop-color="#0614f8"/><stop offset="0.0629" stop-color="#0614f8"/><stop offset="0.0655" stop-color="#0615f8"/><stop offset="0.0707" stop-color="#0615f8"/><stop offset="0.0733" stop-color="#0615f9"/><stop offset="0.0812" stop-color="#0615f9"/><stop offset="0.0838" stop-color="#0516f9"/><stop offset="0.0995" stop-color="#0516f9"/><stop offset="0.1021" stop-color="#0517f9"/><stop offset="0.1179" stop-color="#0517f9"/><stop offset="0.1205" stop-color="#0518f9"/><stop offset="0.1362" stop-color="#0518f9"/><stop offset="0.1388" stop-color="#0519f9"/><stop offset="0.1571" stop-color="#0519f9"/><stop offset="0.1598" stop-color="#051af9"/><stop offset="0.1755" stop-color="#051af9"/><stop offset="0.1781" stop-color="#051bf9"/><stop offset="0.1833" stop-color="#051bf9"/><stop offset="0.1860" stop-color="#051bfa"/><stop offset="0.1938" stop-color="#051bfa"/><stop offset="0.1964" stop-color="#051cfa"/><stop offset="0.2121" stop-color="#051cfa"/><stop offset="0.2148" stop-color="#041ffa"/><stop offset="0.2174" stop-color="#022cfc"/><stop offset="0.2200" stop-color="#0138fe"/><stop offset="0.2226" stop-color="#004eff"/><stop offset="0.2252" stop-color="#0067ff"/><stop offset="0.2279" stop-color="#0080ff"/><stop offset="0.2305" stop-color="#0098ff"/><stop offset="0.2331" stop-color="#00a5ff"/><stop offset="0.2357" stop-color="#00b2ff"/><stop offset="0.2383" stop-color="#00bfff"/><stop offset="0.2410" stop-color="#00ccff"/><stop offset="0.2436" stop-color="#00daff"/><stop offset="0.2462" stop-color="#00e6ff"/><stop offset="0.2488" stop-color="#03e8f9"/><stop offset="0.2514" stop-color="#05ebf3"/><stop offset="0.2540" stop-color="#08eded"/><stop offset="0.2567" stop-color="#0befe8"/><stop offset="0.2593" stop-color="#0df1e2"/><stop offset="0.2619" stop-color="#10f3dc"/><stop offset="0.2645" stop-color="#18facb"/><stop offset="0.2671" stop-color="#21ffb9"/><stop offset="0.2698" stop-color="#2effa4"/><stop offset="0.2724" stop-color="#32ff9e"/><stop offset="0.2750" stop-color="#29ffad"/><stop offset="0.2776" stop-color="#19fbc9"/><stop offset="0.2802" stop-color="#0aeeea"/><stop offset="0.2829" stop-color="#06ebf2"/><stop offset="0.2855" stop-color="#1bfcc5"/><stop offset="0.2881" stop-color="#54ff66"/><stop offset="0.2907" stop-color="#97fd21"/><stop offset="0.2933" stop-color="#d2f100"/><stop offset="0.2960" stop-color="#f3d300"/><stop offset="0.2986" stop-color="#ffb800"/><stop offset="0.3012" stop-color="#ffa800"/><stop offset="0.3038" stop-color="#ffaf00"/><stop offset="0.3064" stop-color="#facd00"/><stop offset="0.3090" stop-color="#d6ed00"/><stop offset="0.3117" stop-color="#8cfd28"/><stop offset="0.3143" stop-color="#33ff9c"/><stop offset="0.3169" stop-color="#0befe8"/><stop offset="0.3195" stop-color="#53ff68"/><stop offset="0.3221" stop-color="#befb07"/><stop offset="0.3248" stop-color="#fec900"/><stop offset="0.3274" stop-color="#ff7a00"/><stop offset="0.3300" stop-color="#f74e00"/><stop offset="0.3326" stop-color="#f23600"/><stop offset="0.3352" stop-color="#f13300"/><stop offset="0.3379" stop-color="#f54300"/><stop offset="0.3405" stop-color="#fd6300"/><stop offset="0.3431" stop-color="#ffa400"/><stop offset="0.3457" stop-color="#dfe500"/><stop offset="0.3483" stop-color="#89fd2a"/><stop offset="0.3510" stop-color="#26ffb1"/><stop offset="0.3536" stop-color="#58ff60"/><stop offset="0.3562" stop-color="#befb06"/><stop offset="0.3588" stop-color="#fccb00"/><stop offset="0.3614" stop-color="#ff7e00"/><stop offset="0.3640" stop-color="#f85100"/><stop offset="0.3667" stop-color="#f23900"/><stop offset="0.3693" stop-color="#f13100"/><stop offset="0.3719" stop-color="#f33c00"/><stop offset="0.3745" stop-color="#fa5700"/><stop offset="0.3771" stop-color="#ff8b00"/><stop offset="0.3798" stop-color="#f2d400"/><stop offset="0.3824" stop-color="#acfc13"/><stop offset="0.3850" stop-color="#46ff7d"/><stop offset="0.3876" stop-color="#38ff95"/><stop offset="0.3902" stop-color="#9cfc1d"/><stop offset="0.3929" stop-color="#eadb00"/><stop offset="0.3955" stop-color="#ff9600"/><stop offset="0.3981" stop-color="#fb5c00"/><stop offset="0.4007" stop-color="#f43f00"/><stop offset="0.4033" stop-color="#f13200"/><stop offset="0.4060" stop-color="#f23600"/><stop offset="0.4086" stop-color="#f74c00"/><stop offset="0.4112" stop-color="#ff7300"/><stop offset="0.4138" stop-color="#ffc000"/><stop offset="0.4164" stop-color="#cbf700"/><stop offset="0.4190" stop-color="#66ff48"/><stop offset="0.4217" stop-color="#1bfdc4"/><stop offset="0.4243" stop-color="#79fe35"/><stop offset="0.4269" stop-color="#d6ed00"/><stop offset="0.4295" stop-color="#ffb100"/><stop offset="0.4321" stop-color="#fe6a00"/><stop offset="0.4348" stop-color="#f64700"/><stop offset="0.4374" stop-color="#f13400"/><stop offset="0.4400" stop-color="#f13300"/><stop offset="0.4426" stop-color="#f54300"/><stop offset="0.4452" stop-color="#fd6300"/><stop offset="0.4479" stop-color="#ffa400"/><stop offset="0.4505" stop-color="#dfe500"/><stop offset="0.4531" stop-color="#89fd2a"/><stop offset="0.4557" stop-color="#26ffb1"/><stop offset="0.4583" stop-color="#58ff60"/><stop offset="0.4610" stop-color="#befb06"/><stop offset="0.4636" stop-color="#fccb00"/><stop offset="0.4662" stop-color="#ff7e00"/><stop offset="0.4688" stop-color="#f85100"/><stop offset="0.4714" stop-color="#f23900"/><stop offset="0.4740" stop-color="#f13100"/><stop offset="0.4767" stop-color="#f33c00"/><stop offset="0.4793" stop-color="#fa5700"/><stop offset="0.4819" stop-color="#ff8b00"/><stop offset="0.4845" stop-color="#f2d400"/><stop offset="0.4871" stop-color="#acfc13"/><stop offset="0.4898" stop-color="#46ff7d"/><stop offset="0.4924" stop-color="#38ff95"/><stop offset="0.4950" stop-color="#9cfc1d"/><stop offset="0.4976" stop-color="#eadb00"/><stop offset="0.5002" stop-color="#ff9600"/><stop offset="0.5029" stop-color="#fb5c00"/><stop offset="0.5055" stop-color="#f43f00"/><stop offset="0.5081" stop-color="#f13200"/><stop offset="0.5107" stop-color="#f23600"/><stop offset="0.5133" stop-color="#f74c00"/><stop offset="0.5160" stop-color="#ff7300"/><stop offset="0.5186" stop-color="#ffc000"/><stop offset="0.5212" stop-color="#cbf700"/><stop offset="0.5238" stop-color="#66ff48"/><stop offset="0.5264" stop-color="#1bfdc4"/><stop offset="0.5290" stop-color="#79fe35"/><stop offset="0.5317" stop-color="#d6ed00"/><stop offset="0.5343" stop-color="#ffb100"/><stop offset="0.5369" stop-color="#fe6a00"/><stop offset="0.5395" stop-color="#f64700"/><stop offset="0.5421" stop-color="#f13400"/><stop offset="0.5448" stop-color="#f13300"/><stop offset="0.5474" stop-color="#f54300"/><stop offset="0.5500" stop-color="#fd6300"/><stop offset="0.5526" stop-color="#ffa400"/><stop offset="0.5552" stop-color="#dfe500"/><stop offset="0.5579" stop-color="#86fe2c"/><stop offset="0.5605" stop-color="#21ffb9"/><stop offset="0.5631" stop-color="#50ff6c"/><stop offset="0.5657" stop-color="#b3fb0e"/><stop offset="0.5683" stop-color="#f3d300"/><stop offset="0.5710" stop-color="#ff8f00"/><stop offset="0.5736" stop-color="#fb5e00"/><stop offset="0.5762" stop-color="#f64700"/><stop offset="0.5788" stop-color="#f54200"/><stop offset="0.5814" stop-color="#f74e00"/><stop offset="0.5840" stop-color="#fe6a00"/><stop offset="0.5867" stop-color="#ffaa00"/><stop offset="0.5893" stop-color="#dee600"/><stop offset="0.5919" stop-color="#88fe2a"/><stop offset="0.5945" stop-color="#25ffb3"/><stop offset="0.5971" stop-color="#1afcc6"/><stop offset="0.5998" stop-color="#72ff39"/><stop offset="0.6024" stop-color="#cff400"/><stop offset="0.6050" stop-color="#ffc800"/><stop offset="0.6076" stop-color="#ff9000"/><stop offset="0.6102" stop-color="#ff7000"/><stop offset="0.6129" stop-color="#fe6a00"/><stop offset="0.6155" stop-color="#ff7800"/><stop offset="0.6181" stop-color="#ff9e00"/><stop offset="0.6207" stop-color="#f7d000"/><stop offset="0.6233" stop-color="#ccf600"/><stop offset="0.6260" stop-color="#80fe30"/><stop offset="0.6286" stop-color="#35ff98"/><stop offset="0.6312" stop-color="#11f4db"/><stop offset="0.6338" stop-color="#40ff87"/><stop offset="0.6364" stop-color="#7dfe32"/><stop offset="0.6390" stop-color="#b3fb0e"/><stop offset="0.6417" stop-color="#d3f000"/><stop offset="0.6443" stop-color="#e2e300"/><stop offset="0.6469" stop-color="#e6df00"/><stop offset="0.6495" stop-color="#e0e400"/><stop offset="0.6521" stop-color="#d2f100"/><stop offset="0.6548" stop-color="#b4fb0e"/><stop offset="0.6574" stop-color="#86fe2c"/><stop offset="0.6600" stop-color="#54ff66"/><stop offset="0.6626" stop-color="#23ffb6"/><stop offset="0.6652" stop-color="#0df1e2"/><stop offset="0.6679" stop-color="#15f7d2"/><stop offset="0.6705" stop-color="#2cffa8"/><stop offset="0.6731" stop-color="#4dff71"/><stop offset="0.6757" stop-color="#68ff46"/><stop offset="0.6783" stop-color="#7cfe33"/><stop offset="0.6810" stop-color="#86fe2c"/><stop offset="0.6836" stop-color="#85fe2d"/><stop offset="0.6862" stop-color="#78fe35"/><stop offset="0.6888" stop-color="#61ff51"/><stop offset="0.6914" stop-color="#42ff83"/><stop offset="0.6940" stop-color="#1dfec0"/><stop offset="0.6967" stop-color="#0df1e3"/><stop offset="0.6993" stop-color="#00daff"/><stop offset="0.7019" stop-color="#00d0ff"/><stop offset="0.7045" stop-color="#06ebf3"/><stop offset="0.7071" stop-color="#13f6d6"/><stop offset="0.7098" stop-color="#1effbe"/><stop offset="0.7124" stop-color="#34ff9a"/><stop offset="0.7150" stop-color="#41ff85"/><stop offset="0.7176" stop-color="#44ff80"/><stop offset="0.7202" stop-color="#3eff8b"/><stop offset="0.7229" stop-color="#2dffa6"/><stop offset="0.7255" stop-color="#1afcc7"/><stop offset="0.7281" stop-color="#0df1e2"/><stop offset="0.7307" stop-color="#00e2ff"/><stop offset="0.7333" stop-color="#00baff"/><stop offset="0.7360" stop-color="#0097ff"/><stop offset="0.7386" stop-color="#00baff"/><stop offset="0.7412" stop-color="#00daff"/><stop offset="0.7438" stop-color="#06ebf1"/><stop offset="0.7464" stop-color="#0ff3de"/><stop offset="0.7490" stop-color="#15f8d1"/><stop offset="0.7517" stop-color="#18facc"/><stop offset="0.7543" stop-color="#16f9cf"/><stop offset="0.7569" stop-color="#11f4da"/><stop offset="0.7595" stop-color="#09edec"/><stop offset="0.7621" stop-color="#00e0ff"/><stop offset="0.7648" stop-color="#00beff"/><stop offset="0.7674" stop-color="#0098ff"/><stop offset="0.7700" stop-color="#0072ff"/><stop offset="0.7726" stop-color="#0080ff"/><stop offset="0.7752" stop-color="#009dff"/><stop offset="0.7779" stop-color="#00b8ff"/><stop offset="0.7805" stop-color="#00cdff"/><stop offset="0.7831" stop-color="#00dbff"/><stop offset="0.7857" stop-color="#00e1ff"/><stop offset="0.7883" stop-color="#00dfff"/><stop offset="0.7910" stop-color="#00d6ff"/><stop offset="0.7936" stop-color="#00c4ff"/><stop offset="0.7962" stop-color="#00acff"/><stop offset="0.7988" stop-color="#008eff"/><stop offset="0.8014" stop-color="#006eff"/><stop offset="0.8040" stop-color="#004cff"/><stop offset="0.8067" stop-color="#0043ff"/><stop offset="0.8093" stop-color="#005bff"/><stop offset="0.8119" stop-color="#0070ff"/><stop offset="0.8145" stop-color="#0080ff"/><stop offset="0.8171" stop-color="#008aff"/><stop offset="0.8198" stop-color="#008eff"/><stop offset="0.8224" stop-color="#008bff"/><stop offset="0.8250" stop-color="#0083ff"/><stop offset="0.8276" stop-color="#0076ff"/><stop offset="0.8302" stop-color="#0064ff"/><stop offset="0.8329" stop-color="#0050ff"/><stop offset="0.8355" stop-color="#003bff"/><stop offset="0.8381" stop-color="#022ffd"/><stop offset="0.8407" stop-color="#0326fb"/><stop offset="0.8433" stop-color="#022dfd"/><stop offset="0.8460" stop-color="#0133fe"/><stop offset="0.8486" stop-color="#0138fe"/><stop offset="0.8512" stop-color="#003aff"/><stop offset="0.8538" stop-color="#003bff"/><stop offset="0.8564" stop-color="#0039ff"/><stop offset="0.8590" stop-color="#0136fe"/><stop offset="0.8617" stop-color="#0133fd"/><stop offset="0.8643" stop-color="#022efd"/><stop offset="0.8669" stop-color="#0329fc"/><stop offset="0.8695" stop-color="#0324fb"/><stop offset="0.8721" stop-color="#041ffa"/><stop offset="0.8748" stop-color="#051bfa"/><stop offset="0.8774" stop-color="#051cfa"/><stop offset="0.8800" stop-color="#041dfa"/><stop offset="0.8826" stop-color="#041dfa"/><stop offset="0.8852" stop-color="#051cfa"/><stop offset="0.8879" stop-color="#051af9"/><stop offset="0.8905" stop-color="#0519f9"/><stop offset="0.8931" stop-color="#0518f9"/><stop offset="0.8983" stop-color="#0518f9"/><stop offset="0.9010" stop-color="#0517f9"/><stop offset="0.9036" stop-color="#0517f9"/><stop offset="0.9062" stop-color="#0516f9"/><stop offset="0.9114" stop-color="#0516f9"/><stop offset="0.9140" stop-color="#0615f9"/><stop offset="0.9167" stop-color="#0615f8"/><stop offset="0.9193" stop-color="#0615f8"/><stop offset="0.9219" stop-color="#0614f8"/><stop offset="0.9245" stop-color="#0614f8"/><stop offset="0.9271" stop-color="#0613f8"/><stop offset="0.9324" stop-color="#0613f8"/><stop offset="0.9350" stop-color="#0612f8"/><stop offset="0.9979" stop-color="#0612f8"/></linearGradient><linearGradient id="sg4" gradientUnits="userSpaceOnUse" x1="379.50" y1="160.62" x2="384.00" y2="289.22"><stop offset="0.0000" stop-color="#0612f8"/><stop offset="0.0333" stop-color="#0612f8"/><stop offset="0.0359" stop-color="#0613f8"/><stop offset="0.0513" stop-color="#0613f8"/><stop offset="0.0538" stop-color="#0614f8"/><stop offset="0.0692" stop-color="#0614f8"/><stop offset="0.0718" stop-color="#0615f8"/><stop offset="0.0769" stop-color="#0615f8"/><stop offset="0.0794" stop-color="#0615f9"/><stop offset="0.0846" stop-color="#0615f9"/><stop offset="0.0871" stop-color="#0516f9"/><stop offset="0.1025" stop-color="#0516f9"/><stop offset="0.1051" stop-color="#0517f9"/><stop offset="0.1205" stop-color="#0517f9"/><stop offset="0.1230" stop-color="#0518f9"/><stop offset="0.1384" stop-color="#0518f9"/><stop offset="0.1410" stop-color="#0519f9"/><stop offset="0.1563" stop-color="#0519f9"/><stop offset="0.1589" stop-color="#051af9"/><stop offset="0.1717" stop-color="#051af9"/><stop offset="0.1743" stop-color="#051bf9"/><stop offset="0.1820" stop-color="#051bf9"/><stop offset="0.1845" stop-color="#051bfa"/><stop offset="0.1896" stop-color="#051bfa"/><stop offset="0.1922" stop-color="#051cfa"/><stop offset="0.2076" stop-color="#051cfa"/><stop offset="0.2102" stop-color="#0421fb"/><stop offset="0.2127" stop-color="#032afc"/><stop offset="0.2153" stop-color="#0132fd"/><stop offset="0.2178" stop-color="#003aff"/><stop offset="0.2204" stop-color="#004aff"/><stop offset="0.2230" stop-color="#006bff"/><stop offset="0.2255" stop-color="#008cff"/><stop offset="0.2281" stop-color="#00aeff"/><stop offset="0.2307" stop-color="#00c5ff"/><stop offset="0.2332" stop-color="#00d5ff"/><stop offset="0.2358" stop-color="#00e5ff"/><stop offset="0.2383" stop-color="#01e7fc"/><stop offset="0.2409" stop-color="#03e8f9"/><stop offset="0.2435" stop-color="#04e9f7"/><stop offset="0.2460" stop-color="#05eaf4"/><stop offset="0.2486" stop-color="#08ecef"/><stop offset="0.2512" stop-color="#0bf0e6"/><stop offset="0.2537" stop-color="#0ff3de"/><stop offset="0.2563" stop-color="#14f7d4"/><stop offset="0.2588" stop-color="#1bfdc3"/><stop offset="0.2614" stop-color="#34ff9b"/><stop offset="0.2640" stop-color="#52ff6a"/><stop offset="0.2665" stop-color="#6dff3e"/><stop offset="0.2691" stop-color="#83fe2e"/><stop offset="0.2717" stop-color="#8bfd29"/><stop offset="0.2742" stop-color="#7efe31"/><stop offset="0.2768" stop-color="#61ff51"/><stop offset="0.2793" stop-color="#38ff94"/><stop offset="0.2819" stop-color="#13f6d5"/><stop offset="0.2845" stop-color="#20ffbb"/><stop offset="0.2870" stop-color="#62ff4f"/><stop offset="0.2896" stop-color="#aefb11"/><stop offset="0.2922" stop-color="#e5e000"/><stop offset="0.2947" stop-color="#ffb200"/><stop offset="0.2973" stop-color="#ff8000"/><stop offset="0.2998" stop-color="#fe6800"/><stop offset="0.3024" stop-color="#fe6900"/><stop offset="0.3050" stop-color="#ff8400"/><stop offset="0.3075" stop-color="#ffbd00"/><stop offset="0.3101" stop-color="#d3f000"/><stop offset="0.3127" stop-color="#73ff39"/><stop offset="0.3152" stop-color="#15f8d1"/><stop offset="0.3178" stop-color="#0df1e3"/><stop offset="0.3204" stop-color="#62ff50"/><stop offset="0.3229" stop-color="#d4ef00"/><stop offset="0.3255" stop-color="#ffa300"/><stop offset="0.3280" stop-color="#fa5800"/><stop offset="0.3306" stop-color="#f13200"/><stop offset="0.3332" stop-color="#ed2000"/><stop offset="0.3357" stop-color="#ee2500"/><stop offset="0.3383" stop-color="#f44000"/><stop offset="0.3409" stop-color="#ff6e00"/><stop offset="0.3434" stop-color="#fdca00"/><stop offset="0.3460" stop-color="#acfc12"/><stop offset="0.3485" stop-color="#34ff9b"/><stop offset="0.3511" stop-color="#01e7fd"/><stop offset="0.3537" stop-color="#47ff7b"/><stop offset="0.3562" stop-color="#c1fa05"/><stop offset="0.3588" stop-color="#ffba00"/><stop offset="0.3614" stop-color="#fd6500"/><stop offset="0.3639" stop-color="#f33a00"/><stop offset="0.3665" stop-color="#ed2300"/><stop offset="0.3690" stop-color="#ed2100"/><stop offset="0.3716" stop-color="#f13500"/><stop offset="0.3742" stop-color="#fb5c00"/><stop offset="0.3767" stop-color="#ffaa00"/><stop offset="0.3793" stop-color="#cff300"/><stop offset="0.3819" stop-color="#5bff5b"/><stop offset="0.3844" stop-color="#08eded"/><stop offset="0.3870" stop-color="#20ffbb"/><stop offset="0.3895" stop-color="#98fd20"/><stop offset="0.3921" stop-color="#f2d400"/><stop offset="0.3947" stop-color="#ff7c00"/><stop offset="0.3972" stop-color="#f64600"/><stop offset="0.3998" stop-color="#ef2800"/><stop offset="0.4024" stop-color="#ec1f00"/><stop offset="0.4049" stop-color="#ef2c00"/><stop offset="0.4075" stop-color="#f74d00"/><stop offset="0.4100" stop-color="#ff8a00"/><stop offset="0.4126" stop-color="#e7de00"/><stop offset="0.4152" stop-color="#83fe2e"/><stop offset="0.4177" stop-color="#17f9cd"/><stop offset="0.4203" stop-color="#10f3dd"/><stop offset="0.4229" stop-color="#6eff3c"/><stop offset="0.4254" stop-color="#dbe800"/><stop offset="0.4280" stop-color="#ff9a00"/><stop offset="0.4306" stop-color="#f95400"/><stop offset="0.4331" stop-color="#f03000"/><stop offset="0.4357" stop-color="#ed2000"/><stop offset="0.4382" stop-color="#ee2500"/><stop offset="0.4408" stop-color="#f44000"/><stop offset="0.4434" stop-color="#ff6e00"/><stop offset="0.4459" stop-color="#fdca00"/><stop offset="0.4485" stop-color="#acfc12"/><stop offset="0.4511" stop-color="#34ff9b"/><stop offset="0.4536" stop-color="#01e7fd"/><stop offset="0.4562" stop-color="#47ff7b"/><stop offset="0.4587" stop-color="#c1fa05"/><stop offset="0.4613" stop-color="#ffba00"/><stop offset="0.4639" stop-color="#fd6500"/><stop offset="0.4664" stop-color="#f33a00"/><stop offset="0.4690" stop-color="#ed2300"/><stop offset="0.4716" stop-color="#ed2100"/><stop offset="0.4741" stop-color="#f13500"/><stop offset="0.4767" stop-color="#fb5c00"/><stop offset="0.4792" stop-color="#ffaa00"/><stop offset="0.4818" stop-color="#cff300"/><stop offset="0.4844" stop-color="#5bff5b"/><stop offset="0.4869" stop-color="#08eded"/><stop offset="0.4895" stop-color="#20ffbb"/><stop offset="0.4921" stop-color="#98fd20"/><stop offset="0.4946" stop-color="#f2d400"/><stop offset="0.4972" stop-color="#ff7c00"/><stop offset="0.4997" stop-color="#f64600"/><stop offset="0.5023" stop-color="#ef2800"/><stop offset="0.5049" stop-color="#ec1f00"/><stop offset="0.5074" stop-color="#ef2c00"/><stop offset="0.5100" stop-color="#f74d00"/><stop offset="0.5126" stop-color="#ff8a00"/><stop offset="0.5151" stop-color="#e7de00"/><stop offset="0.5177" stop-color="#83fe2e"/><stop offset="0.5203" stop-color="#17f9cd"/><stop offset="0.5228" stop-color="#10f3dd"/><stop offset="0.5254" stop-color="#6eff3c"/><stop offset="0.5279" stop-color="#dbe800"/><stop offset="0.5305" stop-color="#ff9a00"/><stop offset="0.5331" stop-color="#f95400"/><stop offset="0.5356" stop-color="#f03000"/><stop offset="0.5382" stop-color="#ed2000"/><stop offset="0.5408" stop-color="#ee2500"/><stop offset="0.5433" stop-color="#f44000"/><stop offset="0.5459" stop-color="#ff6e00"/><stop offset="0.5484" stop-color="#fdca00"/><stop offset="0.5510" stop-color="#acfc12"/><stop offset="0.5536" stop-color="#34ff9b"/><stop offset="0.5561" stop-color="#00e6fe"/><stop offset="0.5587" stop-color="#45ff7f"/><stop offset="0.5613" stop-color="#bdfb08"/><stop offset="0.5638" stop-color="#ffc000"/><stop offset="0.5664" stop-color="#fe6a00"/><stop offset="0.5689" stop-color="#f43f00"/><stop offset="0.5715" stop-color="#ef2a00"/><stop offset="0.5741" stop-color="#ef2b00"/><stop offset="0.5766" stop-color="#f44100"/><stop offset="0.5792" stop-color="#fe6900"/><stop offset="0.5818" stop-color="#ffbc00"/><stop offset="0.5843" stop-color="#c7fa01"/><stop offset="0.5869" stop-color="#56ff64"/><stop offset="0.5894" stop-color="#0aeee9"/><stop offset="0.5920" stop-color="#21ffb9"/><stop offset="0.5946" stop-color="#8dfd27"/><stop offset="0.5971" stop-color="#e4e100"/><stop offset="0.5997" stop-color="#ffa000"/><stop offset="0.6023" stop-color="#fe6800"/><stop offset="0.6048" stop-color="#f95400"/><stop offset="0.6074" stop-color="#f95300"/><stop offset="0.6099" stop-color="#fc6300"/><stop offset="0.6125" stop-color="#ff8e00"/><stop offset="0.6151" stop-color="#f8ce00"/><stop offset="0.6176" stop-color="#c2fa04"/><stop offset="0.6202" stop-color="#64ff4d"/><stop offset="0.6228" stop-color="#17f9ce"/><stop offset="0.6253" stop-color="#11f4db"/><stop offset="0.6279" stop-color="#4eff71"/><stop offset="0.6305" stop-color="#9bfc1e"/><stop offset="0.6330" stop-color="#d5ee00"/><stop offset="0.6356" stop-color="#f2d400"/><stop offset="0.6381" stop-color="#ffc400"/><stop offset="0.6407" stop-color="#ffbf00"/><stop offset="0.6433" stop-color="#fbcb00"/><stop offset="0.6458" stop-color="#e6de00"/><stop offset="0.6484" stop-color="#c8fa00"/><stop offset="0.6510" stop-color="#89fd2a"/><stop offset="0.6535" stop-color="#48ff7a"/><stop offset="0.6561" stop-color="#15f7d2"/><stop offset="0.6586" stop-color="#00e6ff"/><stop offset="0.6612" stop-color="#16f8cf"/><stop offset="0.6638" stop-color="#3dff8b"/><stop offset="0.6663" stop-color="#69ff44"/><stop offset="0.6689" stop-color="#8ffd26"/><stop offset="0.6715" stop-color="#a8fc15"/><stop offset="0.6740" stop-color="#b3fb0e"/><stop offset="0.6766" stop-color="#aefb11"/><stop offset="0.6791" stop-color="#99fd1f"/><stop offset="0.6817" stop-color="#76ff37"/><stop offset="0.6843" stop-color="#4aff76"/><stop offset="0.6868" stop-color="#1bfdc4"/><stop offset="0.6894" stop-color="#05eaf4"/><stop offset="0.6920" stop-color="#00baff"/><stop offset="0.6945" stop-color="#00d0ff"/><stop offset="0.6971" stop-color="#0aefe9"/><stop offset="0.6996" stop-color="#1bfdc4"/><stop offset="0.7022" stop-color="#3cff8e"/><stop offset="0.7048" stop-color="#56ff63"/><stop offset="0.7073" stop-color="#64ff4c"/><stop offset="0.7099" stop-color="#66ff4a"/><stop offset="0.7125" stop-color="#59ff5d"/><stop offset="0.7150" stop-color="#41ff86"/><stop offset="0.7176" stop-color="#1dffbf"/><stop offset="0.7201" stop-color="#0cf0e4"/><stop offset="0.7227" stop-color="#00d4ff"/><stop offset="0.7253" stop-color="#00a0ff"/><stop offset="0.7278" stop-color="#0094ff"/><stop offset="0.7304" stop-color="#00c1ff"/><stop offset="0.7330" stop-color="#02e8fb"/><stop offset="0.7355" stop-color="#10f3dc"/><stop offset="0.7381" stop-color="#1bfcc5"/><stop offset="0.7407" stop-color="#27ffaf"/><stop offset="0.7432" stop-color="#2cffa7"/><stop offset="0.7458" stop-color="#24ffb3"/><stop offset="0.7483" stop-color="#19fbc9"/><stop offset="0.7509" stop-color="#0df1e2"/><stop offset="0.7535" stop-color="#00e1ff"/><stop offset="0.7560" stop-color="#00b5ff"/><stop offset="0.7586" stop-color="#0085ff"/><stop offset="0.7612" stop-color="#005dff"/><stop offset="0.7637" stop-color="#0086ff"/><stop offset="0.7663" stop-color="#00acff"/><stop offset="0.7688" stop-color="#00cdff"/><stop offset="0.7714" stop-color="#00e6ff"/><stop offset="0.7740" stop-color="#06ebf1"/><stop offset="0.7765" stop-color="#09edec"/><stop offset="0.7791" stop-color="#07ecf0"/><stop offset="0.7817" stop-color="#01e7fd"/><stop offset="0.7842" stop-color="#00d1ff"/><stop offset="0.7868" stop-color="#00b1ff"/><stop offset="0.7893" stop-color="#008cff"/><stop offset="0.7919" stop-color="#0064ff"/><stop offset="0.7945" stop-color="#003bff"/><stop offset="0.7970" stop-color="#0049ff"/><stop offset="0.7996" stop-color="#0067ff"/><stop offset="0.8022" stop-color="#0081ff"/><stop offset="0.8047" stop-color="#0095ff"/><stop offset="0.8073" stop-color="#00a1ff"/><stop offset="0.8098" stop-color="#00a5ff"/><stop offset="0.8124" stop-color="#00a1ff"/><stop offset="0.8150" stop-color="#0095ff"/><stop offset="0.8175" stop-color="#0083ff"/><stop offset="0.8201" stop-color="#006cff"/><stop offset="0.8227" stop-color="#0052ff"/><stop offset="0.8252" stop-color="#0039fe"/><stop offset="0.8278" stop-color="#032afc"/><stop offset="0.8303" stop-color="#0327fb"/><stop offset="0.8329" stop-color="#0231fd"/><stop offset="0.8355" stop-color="#0039fe"/><stop offset="0.8380" stop-color="#0042ff"/><stop offset="0.8406" stop-color="#0048ff"/><stop offset="0.8432" stop-color="#0049ff"/><stop offset="0.8457" stop-color="#0046ff"/><stop offset="0.8483" stop-color="#003eff"/><stop offset="0.8509" stop-color="#0138fe"/><stop offset="0.8534" stop-color="#0231fd"/><stop offset="0.8560" stop-color="#022bfc"/><stop offset="0.8585" stop-color="#0324fb"/><stop offset="0.8611" stop-color="#041efa"/><stop offset="0.8637" stop-color="#0519f9"/><stop offset="0.8662" stop-color="#041dfa"/><stop offset="0.8688" stop-color="#041ffa"/><stop offset="0.8714" stop-color="#0420fa"/><stop offset="0.8739" stop-color="#041ffa"/><stop offset="0.8765" stop-color="#041dfa"/><stop offset="0.8790" stop-color="#051bf9"/><stop offset="0.8816" stop-color="#0519f9"/><stop offset="0.8842" stop-color="#0518f9"/><stop offset="0.8893" stop-color="#0518f9"/><stop offset="0.8919" stop-color="#0517f9"/><stop offset="0.8970" stop-color="#0517f9"/><stop offset="0.8995" stop-color="#0516f9"/><stop offset="0.9021" stop-color="#0516f9"/><stop offset="0.9047" stop-color="#0615f9"/><stop offset="0.9072" stop-color="#0615f8"/><stop offset="0.9098" stop-color="#0615f8"/><stop offset="0.9124" stop-color="#0614f8"/><stop offset="0.9149" stop-color="#0614f8"/><stop offset="0.9175" stop-color="#0613f8"/><stop offset="0.9226" stop-color="#0613f8"/><stop offset="0.9252" stop-color="#0612f8"/><stop offset="0.9995" stop-color="#0612f8"/></linearGradient><linearGradient id="hx" x1="0" y1="0" x2="1" y2="0"><stop offset="0" stop-color="#000"/><stop offset="0.28" stop-color="#fff"/><stop offset="0.72" stop-color="#fff"/><stop offset="1" stop-color="#000"/></linearGradient><mask id="mhx" maskContentUnits="objectBoundingBox"><rect x="0" y="0" width="1" height="1" fill="url(#hx)"/></mask><linearGradient id="vs" gradientUnits="userSpaceOnUse" x1="0" y1="0" x2="2.6" y2="0" spreadMethod="repeat"><stop offset="0" stop-color="#0a8" stop-opacity="0.25"/><stop offset="0.5" stop-color="#ff0" stop-opacity="0.25"/><stop offset="1" stop-color="#0a8" stop-opacity="0.25"/></linearGradient><linearGradient id="bv" x1="0" y1="0" x2="0" y2="1"><stop offset="0" stop-color="#000"/><stop offset="0.12" stop-color="#fff"/><stop offset="0.75" stop-color="#fff"/><stop offset="1" stop-color="#000"/></linearGradient><mask id="mbv" maskContentUnits="objectBoundingBox"><rect x="0" y="0" width="1" height="1" fill="url(#bv)"/></mask><linearGradient id="bd0" gradientUnits="userSpaceOnUse" x1="150.00" y1="199.00" x2="155.82" y2="201.62" spreadMethod="repeat"><stop offset="0" stop-color="#b4ff10" stop-opacity="0"/><stop offset="0.5" stop-color="#b4ff10" stop-opacity="0.18"/><stop offset="1" stop-color="#b4ff10" stop-opacity="0"/></linearGradient><linearGradient id="bd1" gradientUnits="userSpaceOnUse" x1="230.00" y1="199.00" x2="237.00" y2="199.00" spreadMethod="repeat"><stop offset="0" stop-color="#b4ff10" stop-opacity="0"/><stop offset="0.5" stop-color="#b4ff10" stop-opacity="0.11"/><stop offset="1" stop-color="#b4ff10" stop-opacity="0"/></linearGradient><linearGradient id="bd2" gradientUnits="userSpaceOnUse" x1="257.50" y1="199.00" x2="263.92" y2="200.93" spreadMethod="repeat"><stop offset="0" stop-color="#b4ff10" stop-opacity="0"/><stop offset="0.5" stop-color="#b4ff10" stop-opacity="0.18"/><stop offset="1" stop-color="#b4ff10" stop-opacity="0"/></linearGradient><linearGradient id="bd3" gradientUnits="userSpaceOnUse" x1="312.00" y1="199.00" x2="319.00" y2="199.00" spreadMethod="repeat"><stop offset="0" stop-color="#b4ff10" stop-opacity="0"/><stop offset="0.5" stop-color="#b4ff10" stop-opacity="0.11"/><stop offset="1" stop-color="#b4ff10" stop-opacity="0"/></linearGradient><linearGradient id="bd4" gradientUnits="userSpaceOnUse" x1="340.00" y1="197.00" x2="345.82" y2="194.38" spreadMethod="repeat"><stop offset="0" stop-color="#b4ff10" stop-opacity="0"/><stop offset="0.5" stop-color="#b4ff10" stop-opacity="0.25"/><stop offset="1" stop-color="#b4ff10" stop-opacity="0"/></linearGradient><linearGradient id="gb1" gradientUnits="userSpaceOnUse" x1="0.00" y1="164.00" x2="0.00" y2="286.00"><stop offset="0.0000" stop-color="#0612f8"/><stop offset="0.0082" stop-color="#0612f8"/><stop offset="0.0164" stop-color="#0613f8"/><stop offset="0.0410" stop-color="#0613f8"/><stop offset="0.0492" stop-color="#0614f8"/><stop offset="0.0656" stop-color="#0614f8"/><stop offset="0.0738" stop-color="#0615f8"/><stop offset="0.0820" stop-color="#0615f8"/><stop offset="0.0902" stop-color="#0615f9"/><stop offset="0.0984" stop-color="#0615f9"/><stop offset="0.1066" stop-color="#0516f9"/><stop offset="0.1311" stop-color="#0516f9"/><stop offset="0.1393" stop-color="#0517f9"/><stop offset="0.1557" stop-color="#0517f9"/><stop offset="0.1639" stop-color="#0518f9"/><stop offset="0.1885" stop-color="#0518f9"/><stop offset="0.1967" stop-color="#0519f9"/><stop offset="0.2049" stop-color="#0519f9"/><stop offset="0.2131" stop-color="#0058ff"/><stop offset="0.2213" stop-color="#00baff"/><stop offset="0.2295" stop-color="#00d7ff"/><stop offset="0.2377" stop-color="#06ebf2"/><stop offset="0.2459" stop-color="#0ff2df"/><stop offset="0.2541" stop-color="#18facb"/><stop offset="0.2623" stop-color="#26ffb1"/><stop offset="0.2705" stop-color="#34ff9a"/><stop offset="0.2787" stop-color="#42ff84"/><stop offset="0.2869" stop-color="#50ff6d"/><stop offset="0.2951" stop-color="#5eff56"/><stop offset="0.3033" stop-color="#5fff54"/><stop offset="0.3115" stop-color="#61ff52"/><stop offset="0.3197" stop-color="#62ff50"/><stop offset="0.3279" stop-color="#63ff4d"/><stop offset="0.3361" stop-color="#65ff4b"/><stop offset="0.3443" stop-color="#66ff49"/><stop offset="0.3525" stop-color="#66ff48"/><stop offset="0.3607" stop-color="#67ff48"/><stop offset="0.3689" stop-color="#67ff47"/><stop offset="0.3770" stop-color="#67ff47"/><stop offset="0.3852" stop-color="#68ff47"/><stop offset="0.3934" stop-color="#68ff46"/><stop offset="0.4016" stop-color="#68ff46"/><stop offset="0.4098" stop-color="#68ff45"/><stop offset="0.4180" stop-color="#69ff44"/><stop offset="0.4262" stop-color="#69ff44"/><stop offset="0.4344" stop-color="#69ff43"/><stop offset="0.4426" stop-color="#6aff43"/><stop offset="0.4508" stop-color="#6aff42"/><stop offset="0.4590" stop-color="#6aff42"/><stop offset="0.4672" stop-color="#6bff42"/><stop offset="0.4754" stop-color="#6bff41"/><stop offset="0.4836" stop-color="#6bff41"/><stop offset="0.4918" stop-color="#6cff40"/><stop offset="0.5000" stop-color="#6cff3f"/><stop offset="0.5082" stop-color="#6cff3f"/><stop offset="0.5164" stop-color="#6cff3e"/><stop offset="0.5246" stop-color="#6dff3e"/><stop offset="0.5328" stop-color="#6dff3e"/><stop offset="0.5410" stop-color="#6dff3d"/><stop offset="0.5492" stop-color="#6eff3d"/><stop offset="0.5574" stop-color="#6eff3c"/><stop offset="0.5656" stop-color="#6bff40"/><stop offset="0.5738" stop-color="#69ff45"/><stop offset="0.5820" stop-color="#66ff49"/><stop offset="0.5902" stop-color="#63ff4d"/><stop offset="0.5984" stop-color="#61ff52"/><stop offset="0.6066" stop-color="#5eff56"/><stop offset="0.6148" stop-color="#59ff5f"/><stop offset="0.6230" stop-color="#53ff67"/><stop offset="0.6311" stop-color="#4eff70"/><stop offset="0.6393" stop-color="#49ff79"/><stop offset="0.6475" stop-color="#43ff81"/><stop offset="0.6557" stop-color="#3eff8a"/><stop offset="0.6639" stop-color="#35ff99"/><stop offset="0.6721" stop-color="#2bffa8"/><stop offset="0.6803" stop-color="#22ffb8"/><stop offset="0.6885" stop-color="#1cfdc2"/><stop offset="0.6967" stop-color="#18faca"/><stop offset="0.7049" stop-color="#15f8d2"/><stop offset="0.7131" stop-color="#11f4d9"/><stop offset="0.7213" stop-color="#0ef2e1"/><stop offset="0.7295" stop-color="#0aeee9"/><stop offset="0.7377" stop-color="#07ecf1"/><stop offset="0.7459" stop-color="#03e8f8"/><stop offset="0.7541" stop-color="#00e3ff"/><stop offset="0.7623" stop-color="#00d9ff"/><stop offset="0.7705" stop-color="#00cfff"/><stop offset="0.7787" stop-color="#00c5ff"/><stop offset="0.7869" stop-color="#00baff"/><stop offset="0.7951" stop-color="#00acff"/><stop offset="0.8033" stop-color="#009dff"/><stop offset="0.8115" stop-color="#008fff"/><stop offset="0.8197" stop-color="#0081ff"/><stop offset="0.8279" stop-color="#0073ff"/><stop offset="0.8361" stop-color="#0063ff"/><stop offset="0.8443" stop-color="#0052ff"/><stop offset="0.8525" stop-color="#0042ff"/><stop offset="0.8607" stop-color="#0136fe"/><stop offset="0.8689" stop-color="#022efd"/><stop offset="0.8770" stop-color="#0329fc"/><stop offset="0.8852" stop-color="#0424fb"/><stop offset="0.8934" stop-color="#041efa"/><stop offset="0.9016" stop-color="#0519f9"/><stop offset="0.9098" stop-color="#0518f9"/><stop offset="0.9180" stop-color="#0517f9"/><stop offset="0.9262" stop-color="#0616f9"/><stop offset="0.9344" stop-color="#0614f8"/><stop offset="0.9426" stop-color="#0613f8"/><stop offset="0.9508" stop-color="#0612f8"/><stop offset="1.0000" stop-color="#0612f8"/></linearGradient><linearGradient id="gb2" gradientUnits="userSpaceOnUse" x1="0.00" y1="164.00" x2="0.00" y2="286.00"><stop offset="0.0000" stop-color="#0612f8"/><stop offset="0.0082" stop-color="#0612f8"/><stop offset="0.0164" stop-color="#0613f8"/><stop offset="0.0410" stop-color="#0613f8"/><stop offset="0.0492" stop-color="#0614f8"/><stop offset="0.0738" stop-color="#0614f8"/><stop offset="0.0820" stop-color="#0615f8"/><stop offset="0.0902" stop-color="#0615f8"/><stop offset="0.0984" stop-color="#0615f9"/><stop offset="0.1066" stop-color="#0616f9"/><stop offset="0.1148" stop-color="#0516f9"/><stop offset="0.1311" stop-color="#0516f9"/><stop offset="0.1393" stop-color="#0517f9"/><stop offset="0.1639" stop-color="#0517f9"/><stop offset="0.1721" stop-color="#0518f9"/><stop offset="0.1967" stop-color="#0518f9"/><stop offset="0.2049" stop-color="#0519f9"/><stop offset="0.2131" stop-color="#0519f9"/><stop offset="0.2213" stop-color="#0058ff"/><stop offset="0.2295" stop-color="#00baff"/><stop offset="0.2377" stop-color="#00d7ff"/><stop offset="0.2459" stop-color="#06ebf2"/><stop offset="0.2541" stop-color="#0ff2df"/><stop offset="0.2623" stop-color="#18facb"/><stop offset="0.2705" stop-color="#26ffb1"/><stop offset="0.2787" stop-color="#36ff97"/><stop offset="0.2869" stop-color="#46ff7d"/><stop offset="0.2951" stop-color="#56ff63"/><stop offset="0.3033" stop-color="#66ff49"/><stop offset="0.3115" stop-color="#69ff45"/><stop offset="0.3197" stop-color="#6bff40"/><stop offset="0.3279" stop-color="#6eff3c"/><stop offset="0.3361" stop-color="#71ff3a"/><stop offset="0.3443" stop-color="#74ff38"/><stop offset="0.3525" stop-color="#77fe36"/><stop offset="0.3607" stop-color="#77fe36"/><stop offset="0.3689" stop-color="#78fe36"/><stop offset="0.3770" stop-color="#78fe35"/><stop offset="0.3852" stop-color="#78fe35"/><stop offset="0.3934" stop-color="#79fe35"/><stop offset="0.4016" stop-color="#79fe35"/><stop offset="0.4098" stop-color="#7afe34"/><stop offset="0.4262" stop-color="#7afe34"/><stop offset="0.4344" stop-color="#7bfe34"/><stop offset="0.4426" stop-color="#7bfe33"/><stop offset="0.4508" stop-color="#7bfe33"/><stop offset="0.4590" stop-color="#7cfe33"/><stop offset="0.4672" stop-color="#7cfe33"/><stop offset="0.4754" stop-color="#7cfe32"/><stop offset="0.4836" stop-color="#7dfe32"/><stop offset="0.5000" stop-color="#7dfe32"/><stop offset="0.5082" stop-color="#7efe31"/><stop offset="0.5164" stop-color="#7efe31"/><stop offset="0.5246" stop-color="#7ffe31"/><stop offset="0.5328" stop-color="#7ffe31"/><stop offset="0.5410" stop-color="#7ffe30"/><stop offset="0.5492" stop-color="#80fe30"/><stop offset="0.5574" stop-color="#80fe30"/><stop offset="0.5656" stop-color="#7bfe33"/><stop offset="0.5738" stop-color="#77fe36"/><stop offset="0.5820" stop-color="#72ff39"/><stop offset="0.5902" stop-color="#6eff3c"/><stop offset="0.5984" stop-color="#6aff42"/><stop offset="0.6066" stop-color="#66ff49"/><stop offset="0.6148" stop-color="#5fff54"/><stop offset="0.6230" stop-color="#59ff5f"/><stop offset="0.6311" stop-color="#52ff6a"/><stop offset="0.6393" stop-color="#4bff74"/><stop offset="0.6475" stop-color="#45ff7f"/><stop offset="0.6557" stop-color="#3eff8a"/><stop offset="0.6639" stop-color="#35ff99"/><stop offset="0.6721" stop-color="#2bffa8"/><stop offset="0.6803" stop-color="#22ffb8"/><stop offset="0.6885" stop-color="#1cfdc2"/><stop offset="0.6967" stop-color="#18faca"/><stop offset="0.7049" stop-color="#15f8d2"/><stop offset="0.7131" stop-color="#11f4d9"/><stop offset="0.7213" stop-color="#0ef2e1"/><stop offset="0.7295" stop-color="#0aeee9"/><stop offset="0.7377" stop-color="#07ecf1"/><stop offset="0.7459" stop-color="#03e8f8"/><stop offset="0.7541" stop-color="#00e3ff"/><stop offset="0.7623" stop-color="#00d9ff"/><stop offset="0.7705" stop-color="#00cfff"/><stop offset="0.7787" stop-color="#00c5ff"/><stop offset="0.7869" stop-color="#00baff"/><stop offset="0.7951" stop-color="#00acff"/><stop offset="0.8033" stop-color="#009dff"/><stop offset="0.8115" stop-color="#008fff"/><stop offset="0.8197" stop-color="#0081ff"/><stop offset="0.8279" stop-color="#0073ff"/><stop offset="0.8361" stop-color="#0063ff"/><stop offset="0.8443" stop-color="#0052ff"/><stop offset="0.8525" stop-color="#0042ff"/><stop offset="0.8607" stop-color="#0136fe"/><stop offset="0.8689" stop-color="#022efd"/><stop offset="0.8770" stop-color="#0329fc"/><stop offset="0.8852" stop-color="#0424fb"/><stop offset="0.8934" stop-color="#041efa"/><stop offset="0.9016" stop-color="#0519f9"/><stop offset="0.9098" stop-color="#0518f9"/><stop offset="0.9180" stop-color="#0517f9"/><stop offset="0.9262" stop-color="#0616f9"/><stop offset="0.9344" stop-color="#0614f8"/><stop offset="0.9426" stop-color="#0613f8"/><stop offset="0.9508" stop-color="#0612f8"/><stop offset="1.0000" stop-color="#0612f8"/></linearGradient><linearGradient id="gw" gradientUnits="userSpaceOnUse" x1="0" y1="196" x2="0" y2="252"><stop offset="0" stop-color="#a4fc18" stop-opacity="0"/><stop offset="0.12" stop-color="#d3f000"/><stop offset="0.3" stop-color="#f4d200"/><stop offset="0.65" stop-color="#e9dc00"/><stop offset="0.85" stop-color="#92fd24" stop-opacity="0.6"/><stop offset="1" stop-color="#3eff8a" stop-opacity="0"/></linearGradient><linearGradient id="sp1" gradientUnits="userSpaceOnUse" x1="0.00" y1="174.50" x2="0.00" y2="214.50"><stop offset="0.0000" stop-color="#00baff"/><stop offset="0.0250" stop-color="#00d2ff"/><stop offset="0.0500" stop-color="#01e7fc"/><stop offset="0.0750" stop-color="#07ecf0"/><stop offset="0.1000" stop-color="#09eeec"/><stop offset="0.1250" stop-color="#0befe7"/><stop offset="0.1500" stop-color="#0df1e3"/><stop offset="0.1750" stop-color="#0ff2df"/><stop offset="0.2000" stop-color="#11f4da"/><stop offset="0.2250" stop-color="#14f6d4"/><stop offset="0.2500" stop-color="#17f9cd"/><stop offset="0.2750" stop-color="#1bfcc5"/><stop offset="0.3000" stop-color="#1effbe"/><stop offset="0.3250" stop-color="#27ffaf"/><stop offset="0.3500" stop-color="#30ffa0"/><stop offset="0.3750" stop-color="#39ff91"/><stop offset="0.4000" stop-color="#42ff84"/><stop offset="0.4250" stop-color="#4aff77"/><stop offset="0.4500" stop-color="#52ff6a"/><stop offset="0.4750" stop-color="#5aff5d"/><stop offset="0.5000" stop-color="#62ff50"/><stop offset="0.5250" stop-color="#6aff43"/><stop offset="0.5500" stop-color="#72ff39"/><stop offset="0.5750" stop-color="#7bfe33"/><stop offset="0.6000" stop-color="#84fe2d"/><stop offset="0.6250" stop-color="#8dfd27"/><stop offset="0.6500" stop-color="#93fd23"/><stop offset="0.6750" stop-color="#96fd22"/><stop offset="0.7000" stop-color="#98fd20"/><stop offset="0.7250" stop-color="#9bfd1e"/><stop offset="0.7500" stop-color="#9dfc1d"/><stop offset="0.7750" stop-color="#a0fc1b"/><stop offset="0.8000" stop-color="#a2fc19"/><stop offset="0.8250" stop-color="#a5fc18"/><stop offset="0.8500" stop-color="#a7fc16"/><stop offset="0.8750" stop-color="#aafc14"/><stop offset="0.9000" stop-color="#acfc13"/><stop offset="0.9250" stop-color="#affb11"/><stop offset="0.9500" stop-color="#b1fb0f"/><stop offset="0.9750" stop-color="#b4fb0e"/><stop offset="1.0000" stop-color="#b6fb0c"/></linearGradient><linearGradient id="sp2" gradientUnits="userSpaceOnUse" x1="0.00" y1="176.50" x2="0.00" y2="216.50"><stop offset="0.0000" stop-color="#00acff"/><stop offset="0.0250" stop-color="#00d0ff"/><stop offset="0.0500" stop-color="#06ebf2"/><stop offset="0.0750" stop-color="#0befe6"/><stop offset="0.1000" stop-color="#11f4db"/><stop offset="0.1250" stop-color="#16f8cf"/><stop offset="0.1500" stop-color="#1bfdc4"/><stop offset="0.1750" stop-color="#21ffb8"/><stop offset="0.2000" stop-color="#28ffad"/><stop offset="0.2250" stop-color="#2fffa2"/><stop offset="0.2500" stop-color="#36ff97"/><stop offset="0.2750" stop-color="#3dff8c"/><stop offset="0.3000" stop-color="#44ff81"/><stop offset="0.3250" stop-color="#4bff76"/><stop offset="0.3500" stop-color="#51ff6b"/><stop offset="0.3750" stop-color="#58ff60"/><stop offset="0.4000" stop-color="#5eff56"/><stop offset="0.4250" stop-color="#64ff4c"/><stop offset="0.4500" stop-color="#6bff41"/><stop offset="0.4750" stop-color="#72ff3a"/><stop offset="0.5000" stop-color="#79fe35"/><stop offset="0.5250" stop-color="#80fe30"/><stop offset="0.5500" stop-color="#87fe2b"/><stop offset="0.5750" stop-color="#8efd26"/><stop offset="0.6000" stop-color="#93fd23"/><stop offset="0.6250" stop-color="#95fd22"/><stop offset="0.6500" stop-color="#97fd20"/><stop offset="0.6750" stop-color="#9afd1f"/><stop offset="0.7000" stop-color="#9cfc1d"/><stop offset="0.7250" stop-color="#9efc1c"/><stop offset="0.7500" stop-color="#a0fc1b"/><stop offset="0.7750" stop-color="#a2fc19"/><stop offset="0.8000" stop-color="#a5fc18"/><stop offset="0.8250" stop-color="#a7fc16"/><stop offset="0.8500" stop-color="#a9fc15"/><stop offset="0.8750" stop-color="#abfc13"/><stop offset="0.9000" stop-color="#adfb12"/><stop offset="0.9250" stop-color="#affb10"/><stop offset="0.9500" stop-color="#b2fb0f"/><stop offset="0.9750" stop-color="#b4fb0d"/><stop offset="1.0000" stop-color="#b6fb0c"/></linearGradient><linearGradient id="cfade" gradientUnits="userSpaceOnUse" x1="82" y1="0" x2="209" y2="0"><stop offset="0" stop-color="#fff" stop-opacity="0"/><stop offset="0.1" stop-color="#fff"/><stop offset="0.9" stop-color="#fff"/><stop offset="1" stop-color="#fff" stop-opacity="0"/></linearGradient><mask id="mcf" maskUnits="userSpaceOnUse" x="0" y="0" width="550" height="292"><rect x="80" y="70" width="132" height="50" fill="url(#cfade)"/></mask>
<filter id="bl" x="0" y="0" width="1" height="1"><feGaussianBlur stdDeviation="0.6"/></filter><filter id="bl3" x="-1" y="-1" width="3" height="3"><feGaussianBlur stdDeviation="0.8"/></filter><filter id="bl4" x="-1" y="-1" width="3" height="3"><feGaussianBlur stdDeviation="0.45"/></filter><filter id="bl2"><feGaussianBlur stdDeviation="0.35"/></filter>
</defs>
<rect x="25.4" y="20.7" width="236" height="115.7" fill="#7f7f7f"/>
<rect x="306.2" y="20.7" width="232.8" height="115.7" fill="#7f7f7f"/>
<g filter="url(#bl2)"><g mask="url(#mcf)"><path d="M84.00,105.46 L85.00,105.12 L86.00,104.78 L87.00,104.44 L88.00,104.10 L89.00,103.70 L90.00,103.30 L91.00,102.90 L92.00,102.50 L93.00,102.10 L94.00,101.68 L95.00,101.26 L96.00,100.84 L97.00,100.42 L98.00,100.00 L99.00,99.60 L100.00,99.20 L101.00,98.80 L102.00,98.40 L103.00,98.00 L104.00,97.60 L105.00,97.20 L106.00,96.80 L107.00,96.40 L108.00,96.00 L109.00,95.60 L110.00,95.20 L111.00,94.80 L112.00,94.40 L113.00,94.00 L114.00,93.60 L115.00,93.20 L116.00,92.80 L117.00,92.40 L118.00,92.00 L119.00,91.60 L120.00,91.20 L121.00,90.80 L122.00,90.40 L123.00,90.00 L124.00,89.66 L125.00,89.32 L126.00,88.98 L127.00,88.64 L128.00,88.30 L129.00,88.04 L130.00,87.78 L131.00,87.52 L132.00,87.26 L133.00,87.00 L134.00,86.82 L135.00,86.64 L136.00,86.46 L137.00,86.28 L138.00,86.10 L139.00,86.04 L140.00,85.98 L141.00,85.92 L142.00,85.86 L143.00,85.80 L144.00,85.86 L145.00,85.92 L146.00,85.98 L147.00,86.04 L148.00,86.10 L149.00,86.28 L150.00,86.46 L151.00,86.64 L152.00,86.82 L153.00,87.00 L154.00,87.26 L155.00,87.52 L156.00,87.78 L157.00,88.04 L158.00,88.30 L159.00,88.64 L160.00,88.98 L161.00,89.32 L162.00,89.66 L163.00,90.00 L164.00,90.40 L165.00,90.80 L166.00,91.20 L167.00,91.60 L168.00,92.00 L169.00,92.40 L170.00,92.80 L171.00,93.20 L172.00,93.60 L173.00,94.00 L174.00,94.40 L175.00,94.80 L176.00,95.20 L177.00,95.60 L178.00,96.00 L179.00,96.40 L180.00,96.80 L181.00,97.20 L182.00,97.60 L183.00,98.00 L184.00,98.40 L185.00,98.80 L186.00,99.20 L187.00,99.60 L188.00,100.00 L189.00,100.42 L190.00,100.84 L191.00,101.26 L192.00,101.68 L193.00,102.10 L194.00,102.50 L195.00,102.90 L196.00,103.30 L197.00,103.70 L198.00,104.10 L199.00,104.44 L200.00,104.78 L201.00,105.12 L202.00,105.46 L203.00,105.80 L204.00,106.08 L205.00,106.36 L206.00,106.64 L207.00,106.92" fill="none" stroke="#404046" stroke-width="1.0" opacity="0.85"/><path d="M84.00,106.86 L85.00,106.52 L86.00,106.18 L87.00,105.84 L88.00,105.50 L89.00,105.10 L90.00,104.70 L91.00,104.30 L92.00,103.90 L93.00,103.50 L94.00,103.08 L95.00,102.66 L96.00,102.24 L97.00,101.82 L98.00,101.40 L99.00,101.00 L100.00,100.60 L101.00,100.20 L102.00,99.80 L103.00,99.40 L104.00,99.00 L105.00,98.60 L106.00,98.20 L107.00,97.80 L108.00,97.40 L109.00,97.00 L110.00,96.60 L111.00,96.20 L112.00,95.80 L113.00,95.40 L114.00,95.00 L115.00,94.60 L116.00,94.20 L117.00,93.80 L118.00,93.40 L119.00,93.00 L120.00,92.60 L121.00,92.20 L122.00,91.80 L123.00,91.40 L124.00,91.06 L125.00,90.72 L126.00,90.38 L127.00,90.04 L128.00,89.70 L129.00,89.44 L130.00,89.18 L131.00,88.92 L132.00,88.66 L133.00,88.40 L134.00,88.22 L135.00,88.04 L136.00,87.86 L137.00,87.68 L138.00,87.50 L139.00,87.44 L140.00,87.38 L141.00,87.32 L142.00,87.26 L143.00,87.20 L144.00,87.26 L145.00,87.32 L146.00,87.38 L147.00,87.44 L148.00,87.50 L149.00,87.68 L150.00,87.86 L151.00,88.04 L152.00,88.22 L153.00,88.40 L154.00,88.66 L155.00,88.92 L156.00,89.18 L157.00,89.44 L158.00,89.70 L159.00,90.04 L160.00,90.38 L161.00,90.72 L162.00,91.06 L163.00,91.40 L164.00,91.80 L165.00,92.20 L166.00,92.60 L167.00,93.00 L168.00,93.40 L169.00,93.80 L170.00,94.20 L171.00,94.60 L172.00,95.00 L173.00,95.40 L174.00,95.80 L175.00,96.20 L176.00,96.60 L177.00,97.00 L178.00,97.40 L179.00,97.80 L180.00,98.20 L181.00,98.60 L182.00,99.00 L183.00,99.40 L184.00,99.80 L185.00,100.20 L186.00,100.60 L187.00,101.00 L188.00,101.40 L189.00,101.82 L190.00,102.24 L191.00,102.66 L192.00,103.08 L193.00,103.50 L194.00,103.90 L195.00,104.30 L196.00,104.70 L197.00,105.10 L198.00,105.50 L199.00,105.84 L200.00,106.18 L201.00,106.52 L202.00,106.86 L203.00,107.20 L204.00,107.48 L205.00,107.76 L206.00,108.04 L207.00,108.32" fill="none" stroke="#c8c8c8" stroke-width="0.9" opacity="0.8"/></g><g opacity="0.85" filter="url(#bl4)"><path d="M122.0,33.3 l5.2,4.2 M127.2,33.3 l-5.2,4.2" stroke="#b4b4b4" stroke-width="0.9"/><path d="M122.5,34.5 l4.2,0" stroke="#c8c8c8" stroke-width="0.8"/><circle cx="124.9" cy="36.0" r="0.9" fill="#4a4a4a"/></g><g opacity="0.85" filter="url(#bl4)"><path d="M160.3,33.3 l5.2,4.2 M165.5,33.3 l-5.2,4.2" stroke="#b4b4b4" stroke-width="0.9"/><path d="M160.8,34.5 l4.2,0" stroke="#c8c8c8" stroke-width="0.8"/><circle cx="163.2" cy="36.0" r="0.9" fill="#4a4a4a"/></g><g opacity="0.80" filter="url(#bl4)"><path d="M97.2,48.3 l5.2,4.2 M102.4,48.3 l-5.2,4.2" stroke="#b4b4b4" stroke-width="0.9"/><path d="M97.7,49.5 l4.2,0" stroke="#c8c8c8" stroke-width="0.8"/><circle cx="100.1" cy="51.0" r="0.9" fill="#4a4a4a"/></g><g opacity="0.80" filter="url(#bl4)"><path d="M183.2,48.5 l5.2,4.2 M188.4,48.5 l-5.2,4.2" stroke="#b4b4b4" stroke-width="0.9"/><path d="M183.7,49.7 l4.2,0" stroke="#c8c8c8" stroke-width="0.8"/><circle cx="186.1" cy="51.2" r="0.9" fill="#4a4a4a"/></g><g opacity="0.80" filter="url(#bl4)"><path d="M110.6,64.9 l5.2,4.2 M115.8,64.9 l-5.2,4.2" stroke="#b4b4b4" stroke-width="0.9"/><path d="M111.1,66.1 l4.2,0" stroke="#c8c8c8" stroke-width="0.8"/><circle cx="113.5" cy="67.6" r="0.9" fill="#4a4a4a"/></g><g opacity="0.80" filter="url(#bl4)"><path d="M170.6,64.9 l5.2,4.2 M175.8,64.9 l-5.2,4.2" stroke="#b4b4b4" stroke-width="0.9"/><path d="M171.1,66.1 l4.2,0" stroke="#c8c8c8" stroke-width="0.8"/><circle cx="173.5" cy="67.6" r="0.9" fill="#4a4a4a"/></g><g opacity="0.75" filter="url(#bl4)"><path d="M88.9,80.2 l5.2,4.2 M94.1,80.2 l-5.2,4.2" stroke="#b4b4b4" stroke-width="0.9"/><path d="M89.4,81.4 l4.2,0" stroke="#c8c8c8" stroke-width="0.8"/><circle cx="91.8" cy="82.9" r="0.9" fill="#4a4a4a"/></g><g opacity="0.75" filter="url(#bl4)"><path d="M194.6,80.3 l5.2,4.2 M199.8,80.3 l-5.2,4.2" stroke="#b4b4b4" stroke-width="0.9"/><path d="M195.1,81.5 l4.2,0" stroke="#c8c8c8" stroke-width="0.8"/><circle cx="197.5" cy="83.0" r="0.9" fill="#4a4a4a"/></g><g opacity="0.35" filter="url(#bl4)"><path d="M95.2,64.9 l5.2,4.2 M100.4,64.9 l-5.2,4.2" stroke="#b4b4b4" stroke-width="0.9"/><path d="M95.7,66.1 l4.2,0" stroke="#c8c8c8" stroke-width="0.8"/><circle cx="98.1" cy="67.6" r="0.9" fill="#4a4a4a"/></g><g opacity="0.40" filter="url(#bl4)"><path d="M188.1,63.7 l5.2,4.2 M193.3,63.7 l-5.2,4.2" stroke="#b4b4b4" stroke-width="0.9"/><path d="M188.6,64.9 l4.2,0" stroke="#c8c8c8" stroke-width="0.8"/><circle cx="191.0" cy="66.4" r="0.9" fill="#4a4a4a"/></g><path d="M124.2,37 Q122.3,44 119,52" fill="none" stroke="#a8a8a8" stroke-width="1.0" opacity="0.75"/><path d="M124.8,37.5 Q123.5,44 120.5,51" fill="none" stroke="#5a5a5a" stroke-width="0.6" opacity="0.5"/><path d="M163.3,37 Q165.5,44 169.5,54 T175,63" fill="none" stroke="#a8a8a8" stroke-width="1.0" opacity="0.75"/><path d="M162.8,37.5 Q164.5,44 168,53" fill="none" stroke="#5a5a5a" stroke-width="0.6" opacity="0.5"/><line x1="404.0" y1="35.30" x2="442.4" y2="35.30" stroke="#b8b8b8" stroke-width="1.1"/><line x1="404.0" y1="36.70" x2="442.4" y2="36.70" stroke="#525252" stroke-width="1.0"/><line x1="380.0" y1="50.50" x2="465.0" y2="50.50" stroke="#b8b8b8" stroke-width="1.1"/><line x1="380.0" y1="51.90" x2="465.0" y2="51.90" stroke="#525252" stroke-width="1.0"/><line x1="306.5" y1="65.90" x2="394.5" y2="65.90" stroke="#b8b8b8" stroke-width="1.1"/><line x1="306.5" y1="67.30" x2="394.5" y2="67.30" stroke="#525252" stroke-width="1.0"/><line x1="451.7" y1="66.30" x2="538.5" y2="66.30" stroke="#b8b8b8" stroke-width="1.1"/><line x1="451.7" y1="67.70" x2="538.5" y2="67.70" stroke="#525252" stroke-width="1.0"/><line x1="306.5" y1="81.50" x2="372.0" y2="81.50" stroke="#b8b8b8" stroke-width="1.1"/><line x1="306.5" y1="82.90" x2="372.0" y2="82.90" stroke="#525252" stroke-width="1.0"/><line x1="475.3" y1="81.80" x2="538.5" y2="81.80" stroke="#b8b8b8" stroke-width="1.1"/><line x1="475.3" y1="83.20" x2="538.5" y2="83.20" stroke="#525252" stroke-width="1.0"/><path d="M306.50,113.10 L308.96,112.79 L312.50,112.34 L316.41,111.82 L320.00,111.30 L323.08,110.77 L326.03,110.20 L328.96,109.63 L332.00,109.10 L335.30,108.61 L338.75,108.14 L342.08,107.70 L345.00,107.30 L347.33,106.98 L349.25,106.73 L351.05,106.46 L353.00,106.10 L355.20,105.63 L357.50,105.10 L359.80,104.52 L362.00,103.90 L364.02,103.26 L365.94,102.58 L367.88,101.86 L370.00,101.10 L372.36,100.28 L374.88,99.41 L377.45,98.51 L380.00,97.60 L382.50,96.69 L385.00,95.77 L387.50,94.84 L390.00,93.90 L392.50,92.94 L395.00,91.96 L397.50,91.00 L400.00,90.10 L402.59,89.25 L405.25,88.44 L407.78,87.71 L410.00,87.10 L411.80,86.63 L413.31,86.29 L414.66,86.02 L416.00,85.80 L417.30,85.61 L418.50,85.48 L419.70,85.41 L421.00,85.40 L422.41,85.44 L423.88,85.54 L425.41,85.72 L427.00,86.00 L428.70,86.40 L430.50,86.91 L432.30,87.49 L434.00,88.10 L435.48,88.72 L436.81,89.37 L438.24,90.09 L440.00,90.90 L442.22,91.86 L444.75,92.92 L447.41,94.03 L450.00,95.10 L452.50,96.11 L455.00,97.09 L457.50,98.08 L460.00,99.10 L462.50,100.17 L465.00,101.27 L467.50,102.36 L470.00,103.40 L472.50,104.41 L475.00,105.39 L477.50,106.31 L480.00,107.10 L482.51,107.74 L485.03,108.25 L487.54,108.69 L490.00,109.10 L492.27,109.48 L494.41,109.80 L496.71,110.10 L499.50,110.40 L502.77,110.71 L506.38,111.01 L510.42,111.31 L515.00,111.60 L520.86,111.91 L527.72,112.22 L534.09,112.50 L538.50,112.70" fill="none" stroke="#b0b0b0" stroke-width="1.0"/><path d="M306.50,114.50 L308.96,114.19 L312.50,113.74 L316.41,113.22 L320.00,112.70 L323.08,112.17 L326.03,111.60 L328.96,111.03 L332.00,110.50 L335.30,110.01 L338.75,109.54 L342.08,109.10 L345.00,108.70 L347.33,108.38 L349.25,108.13 L351.05,107.86 L353.00,107.50 L355.20,107.03 L357.50,106.50 L359.80,105.92 L362.00,105.30 L364.02,104.66 L365.94,103.98 L367.88,103.26 L370.00,102.50 L372.36,101.68 L374.88,100.81 L377.45,99.91 L380.00,99.00 L382.50,98.09 L385.00,97.17 L387.50,96.24 L390.00,95.30 L392.50,94.34 L395.00,93.36 L397.50,92.40 L400.00,91.50 L402.59,90.65 L405.25,89.84 L407.78,89.11 L410.00,88.50 L411.80,88.03 L413.31,87.69 L414.66,87.42 L416.00,87.20 L417.30,87.01 L418.50,86.88 L419.70,86.81 L421.00,86.80 L422.41,86.84 L423.88,86.94 L425.41,87.12 L427.00,87.40 L428.70,87.80 L430.50,88.31 L432.30,88.89 L434.00,89.50 L435.48,90.12 L436.81,90.77 L438.24,91.49 L440.00,92.30 L442.22,93.26 L444.75,94.32 L447.41,95.43 L450.00,96.50 L452.50,97.51 L455.00,98.49 L457.50,99.48 L460.00,100.50 L462.50,101.57 L465.00,102.67 L467.50,103.76 L470.00,104.80 L472.50,105.81 L475.00,106.79 L477.50,107.71 L480.00,108.50 L482.51,109.14 L485.03,109.65 L487.54,110.09 L490.00,110.50 L492.27,110.88 L494.41,111.20 L496.71,111.50 L499.50,111.80 L502.77,112.11 L506.38,112.41 L510.42,112.71 L515.00,113.00 L520.86,113.31 L527.72,113.62 L534.09,113.90 L538.50,114.10" fill="none" stroke="#505050" stroke-width="1.0"/><path d="M306.50,115.80 L308.96,115.49 L312.50,115.04 L316.41,114.52 L320.00,114.00 L323.08,113.47 L326.03,112.90 L328.96,112.33 L332.00,111.80 L335.30,111.31 L338.75,110.84 L342.08,110.40 L345.00,110.00 L347.33,109.68 L349.25,109.43 L351.05,109.16 L353.00,108.80 L355.20,108.33 L357.50,107.80 L359.80,107.22 L362.00,106.60 L364.02,105.96 L365.94,105.28 L367.88,104.56 L370.00,103.80 L372.36,102.98 L374.88,102.11 L377.45,101.21 L380.00,100.30 L382.50,99.39 L385.00,98.47 L387.50,97.54 L390.00,96.60 L392.50,95.64 L395.00,94.66 L397.50,93.70 L400.00,92.80 L402.59,91.95 L405.25,91.14 L407.78,90.41 L410.00,89.80 L411.80,89.33 L413.31,88.99 L414.66,88.72 L416.00,88.50 L417.30,88.31 L418.50,88.18 L419.70,88.11 L421.00,88.10 L422.41,88.14 L423.88,88.24 L425.41,88.42 L427.00,88.70 L428.70,89.10 L430.50,89.61 L432.30,90.19 L434.00,90.80 L435.48,91.42 L436.81,92.07 L438.24,92.79 L440.00,93.60 L442.22,94.56 L444.75,95.62 L447.41,96.73 L450.00,97.80 L452.50,98.81 L455.00,99.79 L457.50,100.78 L460.00,101.80 L462.50,102.87 L465.00,103.97 L467.50,105.06 L470.00,106.10 L472.50,107.11 L475.00,108.09 L477.50,109.01 L480.00,109.80 L482.51,110.44 L485.03,110.95 L487.54,111.39 L490.00,111.80 L492.27,112.18 L494.41,112.50 L496.71,112.80 L499.50,113.10 L502.77,113.41 L506.38,113.71 L510.42,114.01 L515.00,114.30 L520.86,114.61 L527.72,114.92 L534.09,115.20 L538.50,115.40" fill="none" stroke="#a0a0a0" stroke-width="0.8" opacity="0.7"/></g>
<g filter="url(#bl)">
<rect x="150" y="164" width="269" height="122" fill="#0612f8"/>
<rect x="150.00" y="164" width="80.00" height="122" fill="url(#sg0)"/><rect x="230.00" y="164" width="27.50" height="122" fill="url(#sg1)"/><rect x="257.50" y="164" width="54.50" height="122" fill="url(#sg2)"/><rect x="312.00" y="164" width="28.00" height="122" fill="url(#sg3)"/><rect x="340.00" y="164" width="79.00" height="122" fill="url(#sg4)"/><rect x="150.00" y="199.00" width="80.00" height="47.00" fill="url(#bd0)" mask="url(#mbv)"/><rect x="230.00" y="199.00" width="27.50" height="47.00" fill="url(#bd1)" mask="url(#mbv)"/><rect x="257.50" y="199.00" width="54.50" height="47.00" fill="url(#bd2)" mask="url(#mbv)"/><rect x="312.00" y="199.00" width="28.00" height="47.00" fill="url(#bd3)" mask="url(#mbv)"/><rect x="340.00" y="197.00" width="79.00" height="53.00" fill="url(#bd4)" mask="url(#mbv)"/><rect x="223.60" y="164" width="13.00" height="122" fill="url(#gb1)" mask="url(#mhx)"/><rect x="225.60" y="196" width="9.00" height="54" fill="url(#vs)" opacity="0.5"/><rect x="250.00" y="164" width="15.00" height="122" fill="url(#gb2)" mask="url(#mhx)"/><rect x="252.00" y="196" width="11.00" height="54" fill="url(#vs)" opacity="0.5"/><rect x="304.40" y="164" width="15.20" height="122" fill="url(#gb2)" mask="url(#mhx)"/><rect x="306.40" y="196" width="11.20" height="54" fill="url(#vs)" opacity="0.5"/><rect x="332.00" y="164" width="16.40" height="122" fill="url(#gb1)" mask="url(#mhx)"/><rect x="334.00" y="196" width="12.40" height="54" fill="url(#vs)" opacity="0.5"/><rect x="228.00" y="196" width="5.00" height="56" fill="url(#gw)" opacity="0.35" filter="url(#bl3)"/><rect x="258.00" y="196" width="5.50" height="56" fill="url(#gw)" opacity="0.55" filter="url(#bl3)"/><rect x="307.50" y="196" width="6.00" height="56" fill="url(#gw)" opacity="0.60" filter="url(#bl3)"/><rect x="337.00" y="196" width="6.00" height="56" fill="url(#gw)" opacity="0.30" filter="url(#bl3)"/><path d="M259.30,214.50 C259.30,182.50 260.34,174.50 261.90,174.50 C263.46,174.50 264.50,182.50 264.50,214.50 Z" fill="url(#sp1)" filter="url(#bl3)"/><path d="M305.30,216.50 C305.30,184.50 306.90,176.50 309.30,176.50 C311.70,176.50 313.30,184.50 313.30,216.50 Z" fill="url(#sp2)" filter="url(#bl3)"/><path d="M325.8,166.5 Q328.6,172 329.5,178 T331.4,190" fill="none" stroke="#38a8ff" stroke-width="2.0" stroke-linecap="round" opacity="0.65" filter="url(#bl3)"/><path d="M328.3,178 L328.6,190" fill="none" stroke="#38a8ff" stroke-width="1.2" stroke-linecap="round" opacity="0.4" filter="url(#bl3)"/><line x1="263.8" y1="167.5" x2="262.3" y2="176.0" stroke="#2fb0ff" stroke-width="1.8" stroke-linecap="round" opacity="0.40" filter="url(#bl3)"/><line x1="308.5" y1="169.0" x2="309.3" y2="178.0" stroke="#2fb0ff" stroke-width="2.4" stroke-linecap="round" opacity="0.40" filter="url(#bl3)"/><line x1="332.6" y1="183.0" x2="332.8" y2="193.0" stroke="#2fb0ff" stroke-width="1.2" stroke-linecap="round" opacity="0.60" filter="url(#bl3)"/><line x1="236.8" y1="183.0" x2="236.8" y2="194.0" stroke="#2fb0ff" stroke-width="1.3" stroke-linecap="round" opacity="0.70" filter="url(#bl3)"/><line x1="224.5" y1="185.0" x2="224.6" y2="194.0" stroke="#2fb0ff" stroke-width="1.2" stroke-linecap="round" opacity="0.45" filter="url(#bl3)"/><line x1="240.5" y1="177.0" x2="240.5" y2="188.0" stroke="#2fb0ff" stroke-width="1.0" stroke-linecap="round" opacity="0.25" filter="url(#bl3)"/><line x1="253.5" y1="180.0" x2="253.5" y2="190.0" stroke="#2fb0ff" stroke-width="1.0" stroke-linecap="round" opacity="0.25" filter="url(#bl3)"/><line x1="321.0" y1="178.0" x2="321.0" y2="190.0" stroke="#2fb0ff" stroke-width="1.0" stroke-linecap="round" opacity="0.25" filter="url(#bl3)"/>
</g>
<rect x="150" y="164" width="269" height="122" fill="none" stroke="#101020" stroke-width="1.4"/>
<rect x="25.4" y="20.7" width="236" height="115.7" fill="none" stroke="#2e2e38" stroke-width="1.3"/>
<rect x="306.2" y="20.7" width="232.8" height="115.7" fill="none" stroke="#2e2e38" stroke-width="1.3"/>
<g stroke="#555" stroke-width="0.7"><line x1="25.40" y1="18.30" x2="25.40" y2="20.30"/><line x1="84.20" y1="18.30" x2="84.20" y2="20.30"/><line x1="143.30" y1="18.30" x2="143.30" y2="20.30"/><line x1="201.50" y1="18.30" x2="201.50" y2="20.30"/><line x1="261.30" y1="18.30" x2="261.30" y2="20.30"/><line x1="22.60" y1="20.80" x2="25.00" y2="20.80"/><line x1="22.60" y1="60.60" x2="25.00" y2="60.60"/><line x1="22.60" y1="98.60" x2="25.00" y2="98.60"/><line x1="22.60" y1="136.40" x2="25.00" y2="136.40"/><line x1="306.20" y1="18.30" x2="306.20" y2="20.30"/><line x1="364.30" y1="18.30" x2="364.30" y2="20.30"/><line x1="422.70" y1="18.30" x2="422.70" y2="20.30"/><line x1="480.10" y1="18.30" x2="480.10" y2="20.30"/><line x1="539.00" y1="18.30" x2="539.00" y2="20.30"/><line x1="303.60" y1="20.80" x2="306.00" y2="20.80"/><line x1="303.60" y1="60.20" x2="306.00" y2="60.20"/><line x1="303.60" y1="98.50" x2="306.00" y2="98.50"/><line x1="303.60" y1="136.40" x2="306.00" y2="136.40"/><line x1="150.00" y1="161.80" x2="150.00" y2="163.60"/><line x1="217.50" y1="161.80" x2="217.50" y2="163.60"/><line x1="285.00" y1="161.80" x2="285.00" y2="163.60"/><line x1="350.60" y1="161.80" x2="350.60" y2="163.60"/><line x1="418.80" y1="161.80" x2="418.80" y2="163.60"/></g>
<text class="s" x="5.50" y="14.80" font-size="11.90" text-anchor="start">(a)</text><text class="s" x="285.90" y="14.80" font-size="11.90" text-anchor="start">(b)</text><text class="s" x="131.40" y="157.90" font-size="11.90" text-anchor="start">(c)</text><text class="t" x="143.50" y="10.50" font-size="6.50" text-anchor="middle">Distance (m)</text><text class="t" x="84.20" y="17.40" font-size="6.40" text-anchor="middle">250</text><text class="t" x="143.40" y="17.40" font-size="6.40" text-anchor="middle">500</text><text class="t" x="201.80" y="17.40" font-size="6.40" text-anchor="middle">750</text><text class="t" x="262.00" y="17.40" font-size="6.40" text-anchor="middle">1000</text><text class="t" x="19.70" y="23.90" font-size="6.40" text-anchor="middle">0</text><text class="t" x="18.00" y="63.30" font-size="6.40" text-anchor="middle">1</text><text class="t" x="17.80" y="101.10" font-size="6.40" text-anchor="middle">2</text><text class="t" x="17.50" y="138.50" font-size="6.40" text-anchor="middle">3</text><text class="l" x="0.00" y="0.00" font-size="6.50" text-anchor="middle" transform="translate(10.4,75.5) rotate(-90)">Depth (Km)</text><text class="t" x="423.00" y="10.50" font-size="6.50" text-anchor="middle">Distance (m)</text><text class="t" x="364.60" y="17.40" font-size="6.40" text-anchor="middle">250</text><text class="t" x="422.70" y="17.40" font-size="6.40" text-anchor="middle">500</text><text class="t" x="480.50" y="17.40" font-size="6.40" text-anchor="middle">750</text><text class="t" x="539.20" y="17.40" font-size="6.40" text-anchor="middle">1000</text><text class="t" x="301.20" y="24.00" font-size="6.40" text-anchor="middle">0</text><text class="t" x="300.70" y="63.10" font-size="6.40" text-anchor="middle">1</text><text class="t" x="299.60" y="100.80" font-size="6.40" text-anchor="middle">2</text><text class="t" x="299.00" y="138.70" font-size="6.40" text-anchor="middle">3</text><text class="l" x="0.00" y="0.00" font-size="6.50" text-anchor="middle" transform="translate(292.5,76.8) rotate(-90)">Depth (Km)</text><text class="t" x="285.00" y="153.90" font-size="7.40" text-anchor="middle">Distance (m)</text><text class="t" x="217.80" y="161.40" font-size="7.00" text-anchor="middle">250</text><text class="t" x="285.30" y="161.40" font-size="7.00" text-anchor="middle">500</text><text class="t" x="350.90" y="161.40" font-size="7.00" text-anchor="middle">750</text><text class="t" x="419.50" y="161.40" font-size="7.00" text-anchor="middle">1000</text><text class="t" x="144.60" y="168.80" font-size="6.30" text-anchor="end">0</text><text class="t" x="146.80" y="188.80" font-size="6.30" text-anchor="end">10</text><text class="t" x="146.80" y="206.70" font-size="6.30" text-anchor="end">20</text><text class="t" x="146.80" y="223.90" font-size="6.30" text-anchor="end">30</text><text class="t" x="146.80" y="240.70" font-size="6.30" text-anchor="end">40</text><text class="t" x="146.80" y="257.50" font-size="6.30" text-anchor="end">50</text><text class="t" x="146.80" y="274.30" font-size="6.30" text-anchor="end">60</text><text class="l" x="0.00" y="0.00" font-size="7.00" text-anchor="middle" transform="translate(133.9,223.5) rotate(-90)">Frequency (Hz)</text>
</svg>
</body></html>
